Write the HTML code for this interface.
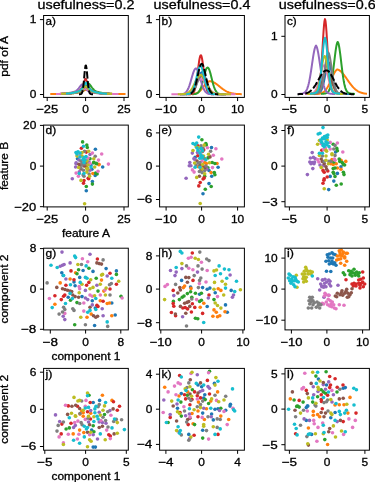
<!DOCTYPE html>
<html><head><meta charset="utf-8"><style>
html,body{margin:0;padding:0;background:#fff;}
svg{display:block;will-change:transform;}
text{font-family:"Liberation Sans",sans-serif;fill:#000;stroke:#000;stroke-width:0.3px;}
</style></head><body>
<svg width="375" height="482" viewBox="0 0 375 482">
<rect width="375" height="482" fill="#fff"/>
<clipPath id="cpa"><rect x="43.60" y="15.50" width="84.70" height="81.90"/></clipPath>
<g clip-path="url(#cpa)">
<polyline points="55.00,94.06 55.49,94.05 55.98,94.04 56.48,94.03 56.97,94.02 57.46,94.01 57.95,94.00 58.44,93.98 58.93,93.97 59.43,93.95 59.92,93.94 60.41,93.92 60.90,93.91 61.39,93.89 61.89,93.87 62.38,93.85 62.87,93.82 63.36,93.80 63.85,93.77 64.34,93.75 64.84,93.72 65.33,93.69 65.82,93.66 66.31,93.62 66.80,93.58 67.30,93.54 67.79,93.50 68.28,93.46 68.77,93.41 69.26,93.36 69.75,93.31 70.25,93.25 70.74,93.19 71.23,93.13 71.72,93.06 72.21,92.99 72.70,92.91 73.20,92.83 73.69,92.74 74.18,92.65 74.67,92.55 75.16,92.45 75.66,92.33 76.15,92.21 76.64,92.08 77.13,91.94 77.62,91.79 78.11,91.61 78.61,91.42 79.10,91.19 79.59,90.93 80.08,90.63 80.57,90.27 81.07,89.86 81.56,89.40 82.05,88.88 82.54,88.32 83.03,87.73 83.52,87.14 84.02,86.56 84.51,86.02 85.00,85.54 85.49,85.27 85.98,85.71 86.48,86.21 86.97,86.77 87.46,87.36 87.95,87.95 88.44,88.53 88.93,89.08 89.43,89.58 89.92,90.02 90.41,90.41 90.90,90.75 91.39,91.03 91.89,91.28 92.38,91.49 92.87,91.68 93.36,91.85 93.85,92.00 94.34,92.13 94.84,92.26 95.33,92.38 95.82,92.49 96.31,92.59 96.80,92.69 97.30,92.78 97.79,92.86 98.28,92.94 98.77,93.02 99.26,93.09 99.75,93.15 100.25,93.22 100.74,93.27 101.23,93.33 101.72,93.38 102.21,93.43 102.70,93.48 103.20,93.52 103.69,93.56 104.18,93.60 104.67,93.63 105.16,93.67 105.66,93.70 106.15,93.73 106.64,93.76 107.13,93.78 107.62,93.81 108.11,93.83 108.61,93.85 109.10,93.87 109.59,93.89 110.08,93.91 110.57,93.93 111.07,93.95 111.56,93.96 112.05,93.97 112.54,93.99 113.03,94.00 113.52,94.01 114.02,94.02 114.51,94.03 115.00,94.04" fill="none" stroke="#1f77b4" stroke-width="2.0" stroke-linejoin="round"/>
<polyline points="50.30,94.07 50.79,94.07 51.29,94.06 51.78,94.05 52.28,94.05 52.77,94.04 53.27,94.03 53.76,94.02 54.26,94.02 54.75,94.01 55.25,94.00 55.74,93.99 56.24,93.98 56.73,93.97 57.23,93.96 57.72,93.95 58.22,93.94 58.71,93.92 59.21,93.91 59.70,93.90 60.19,93.88 60.69,93.87 61.18,93.85 61.68,93.84 62.17,93.82 62.67,93.80 63.16,93.79 63.66,93.77 64.15,93.75 64.65,93.73 65.14,93.71 65.64,93.68 66.13,93.66 66.63,93.63 67.12,93.61 67.62,93.58 68.11,93.55 68.61,93.52 69.10,93.49 69.59,93.46 70.09,93.42 70.58,93.39 71.08,93.35 71.57,93.31 72.07,93.27 72.56,93.23 73.06,93.18 73.55,93.14 74.05,93.09 74.54,93.03 75.04,92.98 75.53,92.92 76.03,92.86 76.52,92.79 77.02,92.71 77.51,92.63 78.01,92.55 78.50,92.45 78.99,92.34 79.49,92.22 79.98,92.09 80.48,91.94 80.97,91.78 81.47,91.61 81.96,91.42 82.46,91.22 82.95,91.01 83.45,90.80 83.94,90.59 84.44,90.37 84.93,90.17 85.43,89.97 85.92,89.79 86.42,89.63 86.91,89.73 87.41,89.91 87.90,90.10 88.39,90.30 88.89,90.51 89.38,90.73 89.88,90.94 90.37,91.15 90.87,91.35 91.36,91.54 91.86,91.72 92.35,91.89 92.85,92.04 93.34,92.18 93.84,92.30 94.33,92.41 94.83,92.51 95.32,92.60 95.82,92.69 96.31,92.76 96.81,92.83 97.30,92.90 97.79,92.96 98.29,93.01 98.78,93.07 99.28,93.12 99.77,93.17 100.27,93.21 100.76,93.26 101.26,93.30 101.75,93.34 102.25,93.38 102.74,93.41 103.24,93.45 103.73,93.48 104.23,93.51 104.72,93.54 105.22,93.57 105.71,93.60 106.21,93.62 106.70,93.65 107.19,93.67 107.69,93.70 108.18,93.72 108.68,93.74 109.17,93.76 109.67,93.78 110.16,93.80 110.66,93.82 111.15,93.83 111.65,93.85 112.14,93.86 112.64,93.88 113.13,93.89 113.63,93.91 114.12,93.92 114.62,93.93 115.11,93.94 115.61,93.96 116.10,93.97 116.59,93.98 117.09,93.99 117.58,94.00 118.08,94.00 118.57,94.01 119.07,94.02 119.56,94.03 120.06,94.04 120.55,94.04 121.05,94.05 121.54,94.06 122.04,94.06 122.53,94.07 123.03,94.08 123.52,94.08 124.02,94.09 124.51,94.09 125.01,94.10 125.50,94.10" fill="none" stroke="#ff7f0e" stroke-width="2.0" stroke-linejoin="round"/>
<polyline points="62.00,93.96 62.49,93.94 62.98,93.93 63.47,93.91 63.96,93.89 64.45,93.87 64.94,93.85 65.43,93.83 65.92,93.81 66.41,93.78 66.90,93.75 67.39,93.73 67.88,93.70 68.37,93.66 68.86,93.63 69.35,93.59 69.84,93.56 70.33,93.51 70.82,93.47 71.31,93.43 71.80,93.38 72.29,93.32 72.78,93.27 73.27,93.21 73.76,93.15 74.25,93.08 74.75,93.01 75.24,92.94 75.73,92.86 76.22,92.77 76.71,92.68 77.20,92.58 77.69,92.48 78.18,92.37 78.67,92.25 79.16,92.13 79.65,91.99 80.14,91.84 80.63,91.67 81.12,91.48 81.61,91.26 82.10,91.01 82.59,90.71 83.08,90.37 83.57,89.97 84.06,89.51 84.55,88.98 85.04,88.39 85.53,87.75 86.02,87.07 86.51,86.37 87.00,85.68 87.49,85.03 87.98,84.43 88.47,83.90 88.96,83.74 89.45,84.24 89.94,84.81 90.43,85.45 90.92,86.13 91.41,86.83 91.90,87.52 92.39,88.17 92.88,88.78 93.37,89.33 93.86,89.82 94.35,90.24 94.84,90.60 95.33,90.91 95.82,91.18 96.31,91.41 96.80,91.60 97.29,91.78 97.78,91.94 98.27,92.08 98.76,92.21 99.25,92.33 99.75,92.44 100.24,92.55 100.73,92.65 101.22,92.74 101.71,92.83 102.20,92.91 102.69,92.99 103.18,93.06 103.67,93.13 104.16,93.19 104.65,93.25 105.14,93.31 105.63,93.36 106.12,93.41 106.61,93.46 107.10,93.50 107.59,93.54 108.08,93.58 108.57,93.62 109.06,93.65 109.55,93.68 110.04,93.72 110.53,93.74 111.02,93.77 111.51,93.80 112.00,93.82" fill="none" stroke="#2ca02c" stroke-width="2.0" stroke-linejoin="round"/>
<polyline points="64.00,93.86 64.49,93.84 64.98,93.81 65.47,93.78 65.95,93.74 66.44,93.71 66.93,93.67 67.42,93.63 67.91,93.58 68.40,93.54 68.88,93.48 69.37,93.43 69.86,93.37 70.35,93.30 70.84,93.23 71.33,93.16 71.81,93.08 72.30,92.99 72.79,92.90 73.28,92.79 73.77,92.68 74.26,92.57 74.74,92.44 75.23,92.30 75.72,92.15 76.21,91.99 76.70,91.82 77.19,91.63 77.67,91.43 78.16,91.21 78.65,90.97 79.14,90.70 79.63,90.39 80.12,90.03 80.60,89.58 81.09,89.03 81.58,88.33 82.07,87.45 82.56,86.38 83.05,85.12 83.53,83.73 84.02,82.28 84.51,80.90 85.00,79.70 85.49,78.77 85.98,79.24 86.47,80.32 86.95,81.64 87.44,83.07 87.93,84.49 88.42,85.82 88.91,86.98 89.40,87.95 89.88,88.73 90.37,89.35 90.86,89.84 91.35,90.23 91.84,90.57 92.33,90.85 92.81,91.11 93.30,91.33 93.79,91.54 94.28,91.74 94.77,91.92 95.26,92.08 95.74,92.23 96.23,92.38 96.72,92.51 97.21,92.63 97.70,92.74 98.19,92.85 98.67,92.95 99.16,93.04 99.65,93.12 100.14,93.20 100.63,93.27 101.12,93.34 101.60,93.40 102.09,93.46 102.58,93.51 103.07,93.56 103.56,93.61 104.05,93.65 104.53,93.69 105.02,93.73 105.51,93.76 106.00,93.79" fill="none" stroke="#d62728" stroke-width="2.0" stroke-linejoin="round"/>
<polyline points="60.00,93.79 60.49,93.77 60.98,93.74 61.47,93.71 61.96,93.68 62.45,93.65 62.94,93.61 63.43,93.57 63.92,93.54 64.41,93.49 64.90,93.45 65.39,93.40 65.88,93.35 66.37,93.30 66.86,93.24 67.35,93.18 67.84,93.12 68.33,93.05 68.82,92.97 69.31,92.90 69.80,92.81 70.29,92.73 70.78,92.63 71.27,92.53 71.76,92.43 72.24,92.31 72.73,92.19 73.22,92.05 73.71,91.90 74.20,91.72 74.69,91.53 75.18,91.31 75.67,91.04 76.16,90.74 76.65,90.38 77.14,89.97 77.63,89.49 78.12,88.96 78.61,88.38 79.10,87.76 79.59,87.12 80.08,86.48 80.57,85.86 81.06,85.29 81.55,84.79 82.04,84.43 82.53,84.87 83.02,85.38 83.51,85.96 84.00,86.58 84.49,87.22 84.98,87.86 85.47,88.48 85.96,89.05 86.45,89.58 86.94,90.04 87.43,90.44 87.92,90.79 88.41,91.09 88.90,91.35 89.39,91.56 89.88,91.75 90.37,91.92 90.86,92.07 91.35,92.21 91.84,92.33 92.33,92.44 92.82,92.55 93.31,92.65 93.80,92.74 94.29,92.83 94.78,92.91 95.27,92.99 95.76,93.06 96.24,93.13 96.73,93.19 97.22,93.25 97.71,93.31 98.20,93.36 98.69,93.41 99.18,93.46 99.67,93.50 100.16,93.54 100.65,93.58 101.14,93.62 101.63,93.65 102.12,93.69 102.61,93.72 103.10,93.74 103.59,93.77 104.08,93.80 104.57,93.82 105.06,93.84 105.55,93.86 106.04,93.88 106.53,93.90 107.02,93.92 107.51,93.94 108.00,93.95" fill="none" stroke="#9467bd" stroke-width="2.0" stroke-linejoin="round"/>
<polyline points="58.00,93.97 58.49,93.96 58.98,93.94 59.47,93.93 59.96,93.91 60.45,93.90 60.95,93.88 61.44,93.86 61.93,93.84 62.42,93.82 62.91,93.80 63.40,93.78 63.89,93.76 64.38,93.73 64.87,93.70 65.36,93.68 65.85,93.65 66.35,93.62 66.84,93.58 67.33,93.55 67.82,93.51 68.31,93.47 68.80,93.43 69.29,93.39 69.78,93.35 70.27,93.30 70.76,93.25 71.25,93.19 71.75,93.14 72.24,93.08 72.73,93.01 73.22,92.95 73.71,92.88 74.20,92.80 74.69,92.72 75.18,92.64 75.67,92.55 76.16,92.45 76.65,92.34 77.15,92.22 77.64,92.09 78.13,91.94 78.62,91.77 79.11,91.57 79.60,91.35 80.09,91.10 80.58,90.82 81.07,90.50 81.56,90.15 82.05,89.77 82.55,89.38 83.04,88.97 83.53,88.57 84.02,88.19 84.51,87.82 85.00,87.49 85.49,87.20 85.98,87.48 86.47,87.81 86.96,88.17 87.45,88.56 87.95,88.96 88.44,89.36 88.93,89.76 89.42,90.13 89.91,90.48 90.40,90.80 90.89,91.09 91.38,91.34 91.87,91.57 92.36,91.76 92.85,91.93 93.35,92.08 93.84,92.22 94.33,92.33 94.82,92.44 95.31,92.54 95.80,92.63 96.29,92.72 96.78,92.80 97.27,92.87 97.76,92.95 98.25,93.01 98.75,93.08 99.24,93.13 99.73,93.19 100.22,93.25 100.71,93.30 101.20,93.34 101.69,93.39 102.18,93.43 102.67,93.47 103.16,93.51 103.65,93.55 104.15,93.58 104.64,93.62 105.13,93.65 105.62,93.68 106.11,93.70 106.60,93.73 107.09,93.76 107.58,93.78 108.07,93.80 108.56,93.82 109.05,93.84 109.55,93.86 110.04,93.88 110.53,93.90 111.02,93.91 111.51,93.93 112.00,93.94" fill="none" stroke="#8c564b" stroke-width="2.0" stroke-linejoin="round"/>
<polyline points="56.00,93.97 56.49,93.96 56.98,93.95 57.48,93.94 57.97,93.92 58.46,93.91 58.95,93.89 59.44,93.88 59.94,93.86 60.43,93.85 60.92,93.83 61.41,93.81 61.91,93.79 62.40,93.77 62.89,93.75 63.38,93.72 63.87,93.70 64.37,93.67 64.86,93.65 65.35,93.62 65.84,93.59 66.33,93.56 66.83,93.53 67.32,93.49 67.81,93.46 68.30,93.42 68.80,93.38 69.29,93.34 69.78,93.30 70.27,93.25 70.76,93.20 71.26,93.15 71.75,93.10 72.24,93.04 72.73,92.98 73.22,92.92 73.72,92.86 74.21,92.79 74.70,92.71 75.19,92.63 75.69,92.54 76.18,92.45 76.67,92.34 77.16,92.23 77.65,92.10 78.15,91.96 78.64,91.80 79.13,91.62 79.62,91.43 80.11,91.22 80.61,90.99 81.10,90.74 81.59,90.48 82.08,90.21 82.57,89.93 83.07,89.65 83.56,89.37 84.05,89.11 84.54,88.85 85.04,88.61 85.53,88.41 86.02,88.64 86.51,88.88 87.00,89.14 87.50,89.40 87.99,89.68 88.48,89.96 88.97,90.24 89.46,90.51 89.96,90.77 90.45,91.01 90.94,91.24 91.43,91.45 91.93,91.64 92.42,91.82 92.91,91.97 93.40,92.11 93.89,92.24 94.39,92.35 94.88,92.46 95.37,92.55 95.86,92.64 96.35,92.72 96.85,92.79 97.34,92.86 97.83,92.93 98.32,92.99 98.81,93.05 99.31,93.11 99.80,93.16 100.29,93.21 100.78,93.26 101.28,93.30 101.77,93.34 102.26,93.39 102.75,93.43 103.24,93.46 103.74,93.50 104.23,93.53 104.72,93.56 105.21,93.59 105.70,93.62 106.20,93.65 106.69,93.68 107.18,93.70 107.67,93.73 108.17,93.75 108.66,93.77 109.15,93.79 109.64,93.81 110.13,93.83 110.63,93.85 111.12,93.86 111.61,93.88 112.10,93.90 112.59,93.91 113.09,93.92 113.58,93.94 114.07,93.95 114.56,93.96 115.06,93.97 115.55,93.98 116.04,93.99 116.53,94.00 117.02,94.01 117.52,94.02 118.01,94.03 118.50,94.04" fill="none" stroke="#e377c2" stroke-width="2.0" stroke-linejoin="round"/>
<polyline points="62.00,93.81 62.49,93.79 62.98,93.77 63.47,93.75 63.96,93.72 64.45,93.69 64.94,93.67 65.43,93.64 65.92,93.60 66.41,93.57 66.90,93.54 67.39,93.50 67.88,93.46 68.37,93.42 68.86,93.37 69.35,93.33 69.84,93.28 70.33,93.23 70.82,93.17 71.31,93.12 71.80,93.05 72.29,92.99 72.78,92.92 73.27,92.85 73.76,92.78 74.24,92.69 74.73,92.61 75.22,92.52 75.71,92.42 76.20,92.31 76.69,92.20 77.18,92.07 77.67,91.92 78.16,91.76 78.65,91.58 79.14,91.37 79.63,91.13 80.12,90.86 80.61,90.55 81.10,90.21 81.59,89.84 82.08,89.43 82.57,89.01 83.06,88.58 83.55,88.15 84.04,87.74 84.53,87.35 85.02,87.00 85.51,86.71 86.00,87.01 86.49,87.37 86.98,87.75 87.47,88.17 87.96,88.60 88.45,89.03 88.94,89.45 89.43,89.85 89.92,90.23 90.41,90.57 90.90,90.87 91.39,91.14 91.88,91.38 92.37,91.59 92.86,91.77 93.35,91.93 93.84,92.07 94.33,92.20 94.82,92.32 95.31,92.42 95.80,92.52 96.29,92.61 96.78,92.70 97.27,92.78 97.76,92.85 98.24,92.93 98.73,92.99 99.22,93.06 99.71,93.12 100.20,93.18 100.69,93.23 101.18,93.28 101.67,93.33 102.16,93.38 102.65,93.42 103.14,93.46 103.63,93.50 104.12,93.54 104.61,93.57 105.10,93.61 105.59,93.64 106.08,93.67 106.57,93.69 107.06,93.72 107.55,93.75 108.04,93.77 108.53,93.79 109.02,93.82 109.51,93.84 110.00,93.85" fill="none" stroke="#7f7f7f" stroke-width="2.0" stroke-linejoin="round"/>
<polyline points="61.00,93.83 61.49,93.81 61.98,93.78 62.47,93.76 62.96,93.74 63.45,93.71 63.94,93.68 64.43,93.65 64.92,93.62 65.41,93.59 65.90,93.56 66.39,93.52 66.88,93.48 67.38,93.44 67.87,93.40 68.36,93.36 68.85,93.31 69.34,93.26 69.83,93.21 70.32,93.15 70.81,93.09 71.30,93.03 71.79,92.97 72.28,92.90 72.77,92.82 73.26,92.75 73.75,92.66 74.24,92.58 74.73,92.48 75.22,92.39 75.71,92.28 76.20,92.16 76.69,92.04 77.18,91.90 77.67,91.74 78.16,91.56 78.65,91.36 79.14,91.13 79.63,90.87 80.12,90.57 80.62,90.24 81.11,89.86 81.60,89.46 82.09,89.02 82.58,88.57 83.07,88.10 83.56,87.65 84.05,87.21 84.54,86.81 85.03,86.44 85.52,86.28 86.01,86.62 86.50,87.00 86.99,87.42 87.48,87.87 87.97,88.33 88.46,88.79 88.95,89.24 89.44,89.66 89.93,90.05 90.42,90.40 90.91,90.72 91.40,91.00 91.89,91.25 92.38,91.46 92.88,91.65 93.37,91.82 93.86,91.97 94.35,92.10 94.84,92.22 95.33,92.33 95.82,92.43 96.31,92.53 96.80,92.62 97.29,92.70 97.78,92.78 98.27,92.86 98.76,92.93 99.25,93.00 99.74,93.06 100.23,93.12 100.72,93.18 101.21,93.23 101.70,93.28 102.19,93.33 102.68,93.38 103.17,93.42 103.66,93.46 104.15,93.50 104.64,93.54 105.13,93.57 105.62,93.61 106.12,93.64 106.61,93.67 107.10,93.70 107.59,93.72 108.08,93.75 108.57,93.77 109.06,93.80 109.55,93.82 110.04,93.84 110.53,93.86 111.02,93.87 111.51,93.89 112.00,93.91" fill="none" stroke="#bcbd22" stroke-width="2.0" stroke-linejoin="round"/>
<polyline points="66.00,93.65 66.49,93.62 66.98,93.58 67.46,93.53 67.95,93.49 68.44,93.44 68.93,93.39 69.42,93.34 69.90,93.28 70.39,93.22 70.88,93.15 71.37,93.08 71.86,93.00 72.35,92.92 72.83,92.84 73.32,92.75 73.81,92.65 74.30,92.55 74.79,92.43 75.27,92.31 75.76,92.19 76.25,92.05 76.74,91.91 77.23,91.75 77.71,91.58 78.20,91.39 78.69,91.18 79.18,90.94 79.67,90.66 80.15,90.33 80.64,89.93 81.13,89.46 81.62,88.90 82.11,88.25 82.60,87.50 83.08,86.68 83.57,85.82 84.06,84.94 84.55,84.11 85.04,83.35 85.52,82.70 86.01,82.63 86.50,83.26 86.99,84.00 87.48,84.83 87.96,85.70 88.45,86.57 88.94,87.40 89.43,88.15 89.92,88.82 90.40,89.39 90.89,89.88 91.38,90.28 91.87,90.62 92.36,90.90 92.85,91.15 93.33,91.36 93.82,91.55 94.31,91.73 94.80,91.89 95.29,92.03 95.77,92.17 96.26,92.30 96.75,92.42 97.24,92.53 97.73,92.64 98.21,92.73 98.70,92.83 99.19,92.91 99.68,92.99 100.17,93.07 100.65,93.14 101.14,93.21 101.63,93.27 102.12,93.33 102.61,93.38 103.10,93.44 103.58,93.48 104.07,93.53 104.56,93.57 105.05,93.61 105.54,93.65 106.02,93.68 106.51,93.72 107.00,93.75" fill="none" stroke="#17becf" stroke-width="2.0" stroke-linejoin="round"/>
<polyline points="79.00,94.20 79.47,94.19 79.93,94.18 80.40,94.13 80.87,94.02 81.33,93.75 81.80,93.17 82.27,92.05 82.73,90.12 83.20,87.12 83.67,82.99 84.13,77.99 84.60,72.78 85.07,68.36 85.53,65.72 86.00,65.54 86.47,67.85 86.93,72.08 87.40,77.24 87.87,82.32 88.33,86.60 88.80,89.76 89.27,91.83 89.73,93.05 90.20,93.69 90.67,93.99 91.13,94.12 91.60,94.17 92.07,94.19 92.53,94.20 93.00,94.20" fill="none" stroke="#000" stroke-width="2.0" stroke-linejoin="round" stroke-dasharray="7.2,2.4" stroke-dashoffset="0.96"/>
</g>
<clipPath id="cpb"><rect x="159.60" y="15.50" width="84.80" height="81.90"/></clipPath>
<g clip-path="url(#cpb)">
<polyline points="180.00,94.20 180.49,94.20 180.98,94.20 181.47,94.20 181.96,94.20 182.45,94.20 182.94,94.20 183.43,94.20 183.91,94.19 184.40,94.19 184.89,94.18 185.38,94.18 185.87,94.16 186.36,94.15 186.85,94.12 187.34,94.09 187.83,94.05 188.32,93.98 188.81,93.90 189.30,93.79 189.79,93.65 190.28,93.46 190.77,93.22 191.26,92.93 191.74,92.56 192.23,92.11 192.72,91.57 193.21,90.93 193.70,90.18 194.19,89.32 194.68,88.34 195.17,87.25 195.66,86.05 196.15,84.75 196.64,83.38 197.13,81.96 197.62,80.51 198.11,79.07 198.60,77.67 199.09,76.36 199.57,75.17 200.06,74.14 200.55,73.31 201.04,72.69 201.53,72.32 202.02,72.20 202.51,72.34 203.00,72.74 203.49,73.37 203.98,74.23 204.47,75.27 204.96,76.47 205.45,77.79 205.94,79.19 206.43,80.64 206.91,82.08 207.40,83.50 207.89,84.87 208.38,86.15 208.87,87.35 209.36,88.43 209.85,89.40 210.34,90.25 210.83,90.99 211.32,91.62 211.81,92.15 212.30,92.60 212.79,92.96 213.28,93.25 213.77,93.48 214.26,93.66 214.74,93.80 215.23,93.91 215.72,93.99 216.21,94.05 216.70,94.09 217.19,94.13 217.68,94.15 218.17,94.17 218.66,94.18 219.15,94.18 219.64,94.19 220.13,94.19 220.62,94.20 221.11,94.20 221.60,94.20 222.09,94.20 222.57,94.20 223.06,94.20 223.55,94.20 224.04,94.20 224.53,94.20 225.02,94.20 225.51,94.20 226.00,94.20" fill="none" stroke="#1f77b4" stroke-width="2.0" stroke-linejoin="round"/>
<polyline points="186.00,94.20 186.49,94.19 186.99,94.19 187.48,94.19 187.98,94.18 188.47,94.18 188.96,94.17 189.46,94.16 189.95,94.15 190.44,94.13 190.94,94.11 191.43,94.08 191.93,94.05 192.42,94.01 192.91,93.95 193.41,93.89 193.90,93.81 194.39,93.72 194.89,93.61 195.38,93.48 195.88,93.33 196.37,93.15 196.86,92.94 197.36,92.70 197.85,92.42 198.35,92.11 198.84,91.77 199.33,91.38 199.83,90.96 200.32,90.50 200.81,90.00 201.31,89.46 201.80,88.89 202.30,88.30 202.79,87.68 203.28,87.05 203.78,86.41 204.27,85.76 204.76,85.13 205.26,84.51 205.75,83.93 206.25,83.38 206.74,82.87 207.23,82.43 207.73,82.05 208.22,81.74 208.72,81.51 209.21,81.36 209.70,81.30 210.20,81.31 210.69,81.36 211.18,81.43 211.68,81.54 212.17,81.69 212.67,81.86 213.16,82.07 213.65,82.30 214.15,82.56 214.64,82.84 215.13,83.15 215.63,83.47 216.12,83.81 216.62,84.17 217.11,84.55 217.60,84.93 218.10,85.32 218.59,85.72 219.08,86.12 219.58,86.52 220.07,86.92 220.57,87.32 221.06,87.72 221.55,88.10 222.05,88.48 222.54,88.85 223.04,89.21 223.53,89.56 224.02,89.90 224.52,90.22 225.01,90.52 225.50,90.82 226.00,91.09 226.49,91.35 226.99,91.60 227.48,91.83 227.97,92.05 228.47,92.25 228.96,92.44 229.45,92.61 229.95,92.77 230.44,92.92 230.94,93.06 231.43,93.18 231.92,93.29 232.42,93.40 232.91,93.49 233.41,93.57 233.90,93.65 234.39,93.72 234.89,93.78 235.38,93.83 235.87,93.88 236.37,93.92 236.86,93.96 237.36,93.99 237.85,94.02 238.34,94.04 238.84,94.07 239.33,94.09 239.82,94.10 240.32,94.12 240.81,94.13 241.31,94.14 241.80,94.15" fill="none" stroke="#ff7f0e" stroke-width="2.0" stroke-linejoin="round"/>
<polyline points="192.00,94.19 192.48,94.18 192.97,94.17 193.45,94.15 193.94,94.12 194.42,94.08 194.91,94.03 195.39,93.95 195.88,93.84 196.36,93.68 196.85,93.48 197.33,93.21 197.82,92.86 198.30,92.41 198.79,91.84 199.27,91.14 199.76,90.29 200.24,89.28 200.73,88.10 201.21,86.74 201.70,85.21 202.18,83.53 202.67,81.72 203.15,79.81 203.64,77.86 204.12,75.91 204.61,74.02 205.09,72.27 205.58,70.71 206.06,69.41 206.55,68.41 207.03,67.77 207.52,67.51 208.00,67.63 208.48,68.15 208.97,69.02 209.45,70.22 209.94,71.70 210.42,73.39 210.91,75.24 211.39,77.17 211.88,79.13 212.36,81.06 212.85,82.91 213.33,84.64 213.82,86.22 214.30,87.64 214.79,88.89 215.27,89.96 215.76,90.86 216.24,91.61 216.73,92.22 217.21,92.71 217.70,93.10 218.18,93.39 218.67,93.62 219.15,93.79 219.64,93.91 220.12,94.00 220.61,94.06 221.09,94.11 221.58,94.14 222.06,94.16 222.55,94.18 223.03,94.18 223.52,94.19 224.00,94.19" fill="none" stroke="#2ca02c" stroke-width="2.0" stroke-linejoin="round"/>
<polyline points="188.00,94.20 188.48,94.20 188.96,94.19 189.44,94.18 189.93,94.17 190.41,94.14 190.89,94.09 191.37,94.00 191.85,93.87 192.33,93.65 192.81,93.32 193.30,92.83 193.78,92.12 194.26,91.13 194.74,89.80 195.22,88.07 195.70,85.87 196.19,83.21 196.67,80.08 197.15,76.55 197.63,72.74 198.11,68.83 198.59,65.01 199.07,61.53 199.56,58.63 200.04,56.53 200.52,55.38 201.00,55.29 201.48,56.26 201.96,58.21 202.44,60.99 202.93,64.39 203.41,68.17 203.89,72.08 204.37,75.92 204.85,79.51 205.33,82.71 205.81,85.46 206.30,87.73 206.78,89.54 207.26,90.94 207.74,91.98 208.22,92.73 208.70,93.25 209.19,93.60 209.67,93.84 210.15,93.98 210.63,94.08 211.11,94.13 211.59,94.16 212.07,94.18 212.56,94.19 213.04,94.19 213.52,94.20 214.00,94.20" fill="none" stroke="#d62728" stroke-width="2.0" stroke-linejoin="round"/>
<polyline points="180.00,94.16 180.49,94.14 180.97,94.12 181.46,94.08 181.94,94.03 182.43,93.96 182.91,93.87 183.40,93.75 183.89,93.58 184.37,93.37 184.86,93.10 185.34,92.76 185.83,92.33 186.31,91.80 186.80,91.17 187.29,90.42 187.77,89.54 188.26,88.51 188.74,87.35 189.23,86.06 189.71,84.63 190.20,83.10 190.69,81.47 191.17,79.77 191.66,78.06 192.14,76.35 192.63,74.71 193.11,73.17 193.60,71.78 194.09,70.59 194.57,69.65 195.06,68.97 195.54,68.58 196.03,68.51 196.51,68.75 197.00,69.29 197.49,70.12 197.97,71.20 198.46,72.49 198.94,73.97 199.43,75.57 199.91,77.25 200.40,78.97 200.89,80.68 201.37,82.34 201.86,83.92 202.34,85.40 202.83,86.76 203.31,87.99 203.80,89.07 204.29,90.02 204.77,90.83 205.26,91.52 205.74,92.09 206.23,92.57 206.71,92.95 207.20,93.25 207.69,93.49 208.17,93.67 208.66,93.82 209.14,93.92 209.63,94.00 210.11,94.06 210.60,94.10 211.09,94.13 211.57,94.15 212.06,94.17 212.54,94.18 213.03,94.19 213.51,94.19 214.00,94.19" fill="none" stroke="#9467bd" stroke-width="2.0" stroke-linejoin="round"/>
<polyline points="180.00,94.20 180.49,94.20 180.98,94.19 181.47,94.19 181.96,94.19 182.45,94.18 182.94,94.17 183.43,94.16 183.91,94.15 184.40,94.13 184.89,94.10 185.38,94.06 185.87,94.01 186.36,93.95 186.85,93.87 187.34,93.77 187.83,93.64 188.32,93.48 188.81,93.28 189.30,93.04 189.79,92.74 190.28,92.40 190.77,91.98 191.26,91.51 191.74,90.95 192.23,90.33 192.72,89.63 193.21,88.85 193.70,88.00 194.19,87.08 194.68,86.10 195.17,85.08 195.66,84.02 196.15,82.96 196.64,81.90 197.13,80.86 197.62,79.88 198.11,78.98 198.60,78.17 199.09,77.47 199.57,76.92 200.06,76.51 200.55,76.27 201.04,76.20 201.53,76.30 202.02,76.57 202.51,77.00 203.00,77.58 203.49,78.30 203.98,79.13 204.47,80.05 204.96,81.04 205.45,82.08 205.94,83.14 206.43,84.21 206.91,85.26 207.40,86.27 207.89,87.24 208.38,88.15 208.87,88.99 209.36,89.75 209.85,90.44 210.34,91.06 210.83,91.59 211.32,92.06 211.81,92.46 212.30,92.80 212.79,93.08 213.28,93.32 213.77,93.51 214.26,93.66 214.74,93.79 215.23,93.89 215.72,93.96 216.21,94.02 216.70,94.07 217.19,94.10 217.68,94.13 218.17,94.15 218.66,94.16 219.15,94.18 219.64,94.18 220.13,94.19 220.62,94.19 221.11,94.19 221.60,94.20 222.09,94.20 222.57,94.20 223.06,94.20 223.55,94.20 224.04,94.20 224.53,94.20 225.02,94.20 225.51,94.20 226.00,94.20" fill="none" stroke="#8c564b" stroke-width="2.0" stroke-linejoin="round"/>
<polyline points="171.40,94.20 171.89,94.20 172.38,94.20 172.88,94.20 173.37,94.20 173.86,94.20 174.35,94.20 174.85,94.20 175.34,94.20 175.83,94.20 176.32,94.20 176.82,94.20 177.31,94.19 177.80,94.19 178.29,94.19 178.78,94.18 179.28,94.18 179.77,94.17 180.26,94.16 180.75,94.15 181.25,94.13 181.74,94.11 182.23,94.09 182.72,94.06 183.22,94.01 183.71,93.96 184.20,93.90 184.69,93.83 185.18,93.74 185.68,93.62 186.17,93.49 186.66,93.34 187.15,93.15 187.65,92.94 188.14,92.69 188.63,92.41 189.12,92.09 189.62,91.72 190.11,91.31 190.60,90.86 191.09,90.36 191.58,89.82 192.08,89.24 192.57,88.61 193.06,87.95 193.55,87.26 194.05,86.54 194.54,85.80 195.03,85.06 195.52,84.31 196.02,83.58 196.51,82.87 197.00,82.19 197.49,81.56 197.98,80.98 198.48,80.47 198.97,80.04 199.46,79.69 199.95,79.43 200.45,79.26 200.94,79.20 201.43,79.24 201.92,79.38 202.42,79.61 202.91,79.94 203.40,80.35 203.89,80.85 204.38,81.41 204.88,82.03 205.37,82.69 205.86,83.40 206.35,84.13 206.85,84.87 207.34,85.61 207.83,86.35 208.32,87.08 208.82,87.78 209.31,88.45 209.80,89.08 210.29,89.68 210.78,90.23 211.28,90.74 211.77,91.20 212.26,91.62 212.75,92.00 213.25,92.33 213.74,92.62 214.23,92.88 214.72,93.10 215.22,93.29 215.71,93.46 216.20,93.59 216.69,93.71 217.18,93.81 217.68,93.88 218.17,93.95 218.66,94.00 219.15,94.05 219.65,94.08 220.14,94.11 220.63,94.13 221.12,94.15 221.62,94.16 222.11,94.17 222.60,94.18 223.09,94.18 223.58,94.19 224.08,94.19 224.57,94.19 225.06,94.20 225.55,94.20 226.05,94.20 226.54,94.20 227.03,94.20 227.52,94.20 228.02,94.20 228.51,94.20 229.00,94.20 229.49,94.20 229.98,94.20 230.48,94.20 230.97,94.20 231.46,94.20 231.95,94.20 232.45,94.20 232.94,94.20 233.43,94.20 233.92,94.20 234.42,94.20 234.91,94.20 235.40,94.20" fill="none" stroke="#e377c2" stroke-width="2.0" stroke-linejoin="round"/>
<polyline points="182.00,94.20 182.49,94.20 182.98,94.20 183.47,94.20 183.96,94.19 184.44,94.19 184.93,94.18 185.42,94.18 185.91,94.17 186.40,94.15 186.89,94.13 187.38,94.10 187.87,94.06 188.36,94.00 188.84,93.92 189.33,93.82 189.82,93.69 190.31,93.51 190.80,93.30 191.29,93.02 191.78,92.68 192.27,92.27 192.76,91.78 193.24,91.19 193.73,90.50 194.22,89.71 194.71,88.81 195.20,87.81 195.69,86.72 196.18,85.54 196.67,84.29 197.16,83.00 197.64,81.68 198.13,80.37 198.62,79.11 199.11,77.92 199.60,76.85 200.09,75.92 200.58,75.17 201.07,74.63 201.56,74.30 202.04,74.20 202.53,74.34 203.02,74.71 203.51,75.30 204.00,76.08 204.49,77.04 204.98,78.13 205.47,79.34 205.96,80.61 206.44,81.92 206.93,83.23 207.42,84.52 207.91,85.76 208.40,86.93 208.89,88.00 209.38,88.98 209.87,89.86 210.36,90.63 210.84,91.30 211.33,91.87 211.82,92.35 212.31,92.75 212.80,93.08 213.29,93.34 213.78,93.55 214.27,93.71 214.76,93.84 215.24,93.94 215.73,94.01 216.22,94.06 216.71,94.10 217.20,94.13 217.69,94.15 218.18,94.17 218.67,94.18 219.16,94.19 219.64,94.19 220.13,94.19 220.62,94.20 221.11,94.20 221.60,94.20 222.09,94.20 222.58,94.20 223.07,94.20 223.56,94.20 224.04,94.20 224.53,94.20 225.02,94.20 225.51,94.20 226.00,94.20" fill="none" stroke="#7f7f7f" stroke-width="2.0" stroke-linejoin="round"/>
<polyline points="177.80,94.20 178.29,94.19 178.79,94.19 179.28,94.19 179.77,94.18 180.26,94.18 180.76,94.17 181.25,94.16 181.74,94.14 182.23,94.12 182.73,94.10 183.22,94.06 183.71,94.02 184.20,93.96 184.70,93.89 185.19,93.80 185.68,93.69 186.17,93.55 186.67,93.39 187.16,93.19 187.65,92.95 188.14,92.66 188.64,92.32 189.13,91.93 189.62,91.48 190.11,90.97 190.61,90.39 191.10,89.74 191.59,89.03 192.09,88.24 192.58,87.40 193.07,86.49 193.56,85.53 194.06,84.54 194.55,83.51 195.04,82.47 195.53,81.43 196.03,80.41 196.52,79.43 197.01,78.50 197.50,77.65 198.00,76.89 198.49,76.24 198.98,75.72 199.47,75.33 199.97,75.09 200.46,75.00 200.95,75.06 201.44,75.28 201.94,75.64 202.43,76.15 202.92,76.77 203.41,77.52 203.91,78.35 204.40,79.27 204.89,80.24 205.39,81.26 205.88,82.30 206.37,83.34 206.86,84.37 207.36,85.37 207.85,86.33 208.34,87.25 208.83,88.11 209.33,88.90 209.82,89.63 210.31,90.29 210.80,90.88 211.30,91.40 211.79,91.86 212.28,92.26 212.77,92.61 213.27,92.90 213.76,93.15 214.25,93.36 214.74,93.53 215.24,93.67 215.73,93.78 216.22,93.88 216.71,93.95 217.21,94.01 217.70,94.06 218.19,94.09 218.69,94.12 219.18,94.14 219.67,94.16 220.16,94.17 220.66,94.18 221.15,94.18 221.64,94.19 222.13,94.19 222.63,94.19 223.12,94.20 223.61,94.20 224.10,94.20 224.60,94.20 225.09,94.20 225.58,94.20 226.07,94.20 226.57,94.20 227.06,94.20 227.55,94.20 228.04,94.20 228.54,94.20 229.03,94.20 229.52,94.20 230.01,94.20 230.51,94.20 231.00,94.20" fill="none" stroke="#bcbd22" stroke-width="2.0" stroke-linejoin="round"/>
<polyline points="186.30,94.17 186.79,94.15 187.27,94.13 187.76,94.09 188.25,94.03 188.73,93.95 189.22,93.83 189.71,93.66 190.20,93.43 190.68,93.13 191.17,92.72 191.66,92.20 192.14,91.54 192.63,90.71 193.12,89.71 193.60,88.50 194.09,87.10 194.58,85.48 195.06,83.68 195.55,81.71 196.04,79.61 196.52,77.44 197.01,75.25 197.50,73.13 197.99,71.16 198.47,69.41 198.96,67.96 199.45,66.88 199.93,66.21 200.42,66.00 200.91,66.25 201.39,66.95 201.88,68.06 202.37,69.54 202.85,71.31 203.34,73.30 203.83,75.43 204.31,77.61 204.80,79.78 205.29,81.87 205.78,83.83 206.26,85.62 206.75,87.22 207.24,88.61 207.72,89.80 208.21,90.79 208.70,91.60 209.18,92.25 209.67,92.76 210.16,93.16 210.64,93.46 211.13,93.68 211.62,93.84 212.10,93.95 212.59,94.04 213.08,94.09 213.57,94.13 214.05,94.16 214.54,94.17 215.03,94.18 215.51,94.19 216.00,94.19" fill="none" stroke="#17becf" stroke-width="2.0" stroke-linejoin="round"/>
<polyline points="188.50,94.07 188.99,94.01 189.48,93.91 189.97,93.79 190.45,93.62 190.94,93.38 191.43,93.07 191.92,92.67 192.41,92.15 192.90,91.50 193.39,90.70 193.87,89.72 194.36,88.55 194.85,87.18 195.34,85.61 195.83,83.85 196.32,81.91 196.80,79.82 197.29,77.63 197.78,75.38 198.27,73.15 198.76,71.00 199.25,69.01 199.74,67.25 200.22,65.80 200.71,64.71 201.20,64.04 201.69,63.80 202.18,64.02 202.67,64.68 203.16,65.75 203.64,67.19 204.13,68.93 204.62,70.92 205.11,73.06 205.60,75.29 206.09,77.54 206.58,79.74 207.06,81.83 207.55,83.78 208.04,85.55 208.53,87.12 209.02,88.50 209.51,89.67 210.00,90.66 210.48,91.47 210.97,92.13 211.46,92.65 211.95,93.06 212.44,93.37 212.93,93.61 213.41,93.78 213.90,93.91 214.39,94.00 214.88,94.07 215.37,94.11 215.86,94.14 216.35,94.16 216.83,94.18 217.32,94.19 217.81,94.19 218.30,94.19" fill="none" stroke="#000" stroke-width="2.0" stroke-linejoin="round" stroke-dasharray="7.2,2.4" stroke-dashoffset="7.33"/>
</g>
<clipPath id="cpc"><rect x="285.00" y="15.50" width="84.40" height="81.90"/></clipPath>
<g clip-path="url(#cpc)">
<polyline points="309.00,94.08 309.49,94.07 309.98,94.06 310.46,94.05 310.95,94.03 311.44,94.02 311.93,94.00 312.42,93.99 312.90,93.97 313.39,93.95 313.88,93.93 314.37,93.90 314.86,93.87 315.35,93.84 315.83,93.80 316.32,93.75 316.81,93.68 317.30,93.60 317.79,93.48 318.27,93.33 318.76,93.13 319.25,92.85 319.74,92.48 320.23,92.00 320.71,91.36 321.20,90.55 321.69,89.52 322.18,88.27 322.67,86.75 323.15,84.98 323.64,82.95 324.13,80.69 324.62,78.24 325.11,75.67 325.60,73.06 326.08,70.51 326.57,68.13 327.06,66.03 327.55,64.32 328.04,63.06 328.52,62.33 329.01,62.48 329.50,63.36 329.99,64.75 330.48,66.58 330.96,68.77 331.45,71.20 331.94,73.78 332.43,76.39 332.92,78.93 333.40,81.34 333.89,83.54 334.38,85.50 334.87,87.20 335.36,88.64 335.85,89.83 336.33,90.79 336.82,91.55 337.31,92.14 337.80,92.60 338.29,92.94 338.77,93.19 339.26,93.38 339.75,93.52 340.24,93.62 340.73,93.70 341.21,93.76 341.70,93.81 342.19,93.85 342.68,93.88 343.17,93.91 343.65,93.93 344.14,93.95 344.63,93.97 345.12,93.99 345.61,94.01 346.10,94.02 346.58,94.04 347.07,94.05 347.56,94.06 348.05,94.07 348.54,94.08 349.02,94.09 349.51,94.10 350.00,94.11" fill="none" stroke="#1f77b4" stroke-width="2.0" stroke-linejoin="round"/>
<polyline points="314.00,94.13 314.49,94.12 314.98,94.10 315.47,94.09 315.96,94.07 316.45,94.04 316.94,94.01 317.44,93.97 317.93,93.93 318.42,93.87 318.91,93.80 319.40,93.72 319.89,93.62 320.38,93.50 320.87,93.36 321.36,93.19 321.85,92.99 322.34,92.76 322.83,92.49 323.32,92.18 323.81,91.82 324.31,91.41 324.80,90.95 325.29,90.43 325.78,89.85 326.27,89.21 326.76,88.51 327.25,87.74 327.74,86.91 328.23,86.02 328.72,85.07 329.21,84.07 329.70,83.02 330.19,81.94 330.69,80.83 331.18,79.70 331.67,78.56 332.16,77.44 332.65,76.34 333.14,75.27 333.63,74.26 334.12,73.30 334.61,72.43 335.10,71.64 335.59,70.96 336.08,70.38 336.57,69.91 337.06,69.57 337.56,69.44 338.05,69.61 338.54,69.82 339.03,70.08 339.52,70.38 340.01,70.73 340.50,71.13 340.99,71.56 341.48,72.04 341.97,72.55 342.46,73.09 342.95,73.67 343.44,74.27 343.94,74.90 344.43,75.55 344.92,76.22 345.41,76.90 345.90,77.60 346.39,78.30 346.88,79.01 347.37,79.71 347.86,80.42 348.35,81.12 348.84,81.82 349.33,82.50 349.82,83.17 350.31,83.82 350.81,84.46 351.30,85.08 351.79,85.68 352.28,86.26 352.77,86.81 353.26,87.34 353.75,87.85 354.24,88.33 354.73,88.79 355.22,89.22 355.71,89.63 356.20,90.01 356.69,90.37 357.19,90.70 357.68,91.02 358.17,91.31 358.66,91.57 359.15,91.82 359.64,92.05 360.13,92.26 360.62,92.45 361.11,92.63 361.60,92.79 362.09,92.94 362.58,93.07 363.07,93.19 363.56,93.30 364.06,93.40 364.55,93.48 365.04,93.56 365.53,93.63 366.02,93.70 366.51,93.75 367.00,93.80" fill="none" stroke="#ff7f0e" stroke-width="2.0" stroke-linejoin="round"/>
<polyline points="321.00,93.88 321.49,93.85 321.97,93.82 322.46,93.78 322.94,93.74 323.43,93.70 323.91,93.65 324.40,93.58 324.89,93.51 325.37,93.41 325.86,93.28 326.34,93.12 326.83,92.89 327.31,92.60 327.80,92.20 328.29,91.67 328.77,90.97 329.26,90.07 329.74,88.91 330.23,87.45 330.71,85.66 331.20,83.49 331.69,80.92 332.17,77.96 332.66,74.61 333.14,70.93 333.63,66.98 334.11,62.89 334.60,58.77 335.09,54.77 335.57,51.07 336.06,47.81 336.54,45.14 337.03,43.18 337.51,42.02 338.00,42.22 338.49,43.58 338.97,45.71 339.46,48.53 339.94,51.91 340.43,55.69 340.91,59.73 341.40,63.86 341.89,67.93 342.37,71.82 342.86,75.43 343.34,78.69 343.83,81.56 344.31,84.03 344.80,86.11 345.29,87.82 345.77,89.21 346.26,90.30 346.74,91.15 347.23,91.81 347.71,92.30 348.20,92.67 348.69,92.95 349.17,93.16 349.66,93.32 350.14,93.43 350.63,93.53 351.11,93.60 351.60,93.66 352.09,93.71 352.57,93.75 353.06,93.79 353.54,93.82 354.03,93.85 354.51,93.88 355.00,93.91" fill="none" stroke="#2ca02c" stroke-width="2.0" stroke-linejoin="round"/>
<polyline points="311.00,93.47 311.48,93.41 311.97,93.34 312.45,93.27 312.93,93.19 313.41,93.11 313.90,93.02 314.38,92.91 314.86,92.80 315.34,92.66 315.83,92.50 316.31,92.29 316.79,92.00 317.28,91.59 317.76,90.99 318.24,90.10 318.72,88.78 319.21,86.89 319.69,84.22 320.17,80.62 320.66,75.92 321.14,70.07 321.62,63.13 322.10,55.32 322.59,47.02 323.07,38.79 323.55,31.28 324.03,25.13 324.52,20.95 325.00,19.10 325.48,20.95 325.97,25.13 326.45,31.28 326.93,38.79 327.41,47.02 327.90,55.32 328.38,63.13 328.86,70.07 329.34,75.92 329.83,80.62 330.31,84.22 330.79,86.89 331.28,88.78 331.76,90.10 332.24,90.99 332.72,91.59 333.21,92.00 333.69,92.29 334.17,92.50 334.66,92.66 335.14,92.80 335.62,92.91 336.10,93.02 336.59,93.11 337.07,93.19 337.55,93.27 338.03,93.34 338.52,93.41 339.00,93.47" fill="none" stroke="#d62728" stroke-width="2.0" stroke-linejoin="round"/>
<polyline points="298.00,93.96 298.49,93.93 298.97,93.91 299.46,93.88 299.95,93.84 300.43,93.80 300.92,93.76 301.41,93.69 301.89,93.62 302.38,93.52 302.87,93.39 303.36,93.23 303.84,93.02 304.33,92.74 304.82,92.38 305.30,91.92 305.79,91.33 306.28,90.60 306.76,89.68 307.25,88.56 307.74,87.21 308.22,85.61 308.71,83.73 309.20,81.56 309.68,79.12 310.17,76.41 310.66,73.46 311.14,70.31 311.63,67.03 312.12,63.69 312.61,60.37 313.09,57.18 313.58,54.20 314.07,51.54 314.55,49.28 315.04,47.50 315.53,46.26 316.01,45.61 316.50,46.31 316.99,47.58 317.47,49.39 317.96,51.67 318.45,54.35 318.93,57.34 319.42,60.55 319.91,63.87 320.39,67.21 320.88,70.49 321.37,73.62 321.86,76.56 322.34,79.26 322.83,81.69 323.32,83.83 323.80,85.70 324.29,87.29 324.78,88.63 325.26,89.74 325.75,90.64 326.24,91.37 326.72,91.95 327.21,92.40 327.70,92.76 328.18,93.03 328.67,93.24 329.16,93.40 329.64,93.53 330.13,93.62 330.62,93.70 331.11,93.76 331.59,93.81 332.08,93.85 332.57,93.88 333.05,93.91 333.54,93.93 334.03,93.96 334.51,93.98 335.00,93.99" fill="none" stroke="#9467bd" stroke-width="2.0" stroke-linejoin="round"/>
<polyline points="309.00,94.07 309.49,94.06 309.97,94.04 310.46,94.03 310.95,94.01 311.43,93.99 311.92,93.96 312.41,93.93 312.89,93.89 313.38,93.84 313.86,93.77 314.35,93.68 314.84,93.57 315.32,93.42 315.81,93.23 316.30,92.98 316.78,92.67 317.27,92.28 317.76,91.79 318.24,91.19 318.73,90.47 319.22,89.62 319.70,88.61 320.19,87.46 320.68,86.16 321.16,84.71 321.65,83.13 322.14,81.45 322.62,79.70 323.11,77.92 323.59,76.14 324.08,74.43 324.57,72.84 325.05,71.41 325.54,70.20 326.03,69.24 326.51,68.57 327.00,68.20 327.49,68.57 327.97,69.24 328.46,70.20 328.95,71.41 329.43,72.84 329.92,74.43 330.41,76.14 330.89,77.92 331.38,79.70 331.86,81.45 332.35,83.13 332.84,84.71 333.32,86.16 333.81,87.46 334.30,88.61 334.78,89.62 335.27,90.47 335.76,91.19 336.24,91.79 336.73,92.28 337.22,92.67 337.70,92.98 338.19,93.23 338.68,93.42 339.16,93.57 339.65,93.68 340.14,93.77 340.62,93.84 341.11,93.89 341.59,93.93 342.08,93.96 342.57,93.99 343.05,94.01 343.54,94.03 344.03,94.04 344.51,94.06 345.00,94.07" fill="none" stroke="#8c564b" stroke-width="2.0" stroke-linejoin="round"/>
<polyline points="305.00,94.08 305.49,94.07 305.97,94.05 306.46,94.04 306.95,94.03 307.44,94.01 307.92,93.99 308.41,93.97 308.90,93.94 309.38,93.90 309.87,93.86 310.36,93.80 310.85,93.72 311.33,93.63 311.82,93.50 312.31,93.34 312.79,93.12 313.28,92.85 313.77,92.51 314.26,92.07 314.74,91.53 315.23,90.87 315.72,90.06 316.21,89.11 316.69,87.99 317.18,86.71 317.67,85.26 318.15,83.64 318.64,81.89 319.13,80.01 319.62,78.05 320.10,76.06 320.59,74.08 321.08,72.17 321.56,70.38 322.05,68.79 322.54,67.43 323.03,66.36 323.51,65.61 324.00,65.20 324.49,65.61 324.97,66.36 325.46,67.43 325.95,68.79 326.44,70.38 326.92,72.17 327.41,74.08 327.90,76.06 328.38,78.05 328.87,80.01 329.36,81.89 329.85,83.64 330.33,85.26 330.82,86.71 331.31,87.99 331.79,89.11 332.28,90.06 332.77,90.87 333.26,91.53 333.74,92.07 334.23,92.51 334.72,92.85 335.21,93.12 335.69,93.34 336.18,93.50 336.67,93.63 337.15,93.72 337.64,93.80 338.13,93.86 338.62,93.90 339.10,93.94 339.59,93.97 340.08,93.99 340.56,94.01 341.05,94.03 341.54,94.04 342.03,94.05 342.51,94.07 343.00,94.08" fill="none" stroke="#e377c2" stroke-width="2.0" stroke-linejoin="round"/>
<polyline points="311.00,93.97 311.49,93.95 311.97,93.92 312.46,93.90 312.94,93.87 313.43,93.85 313.92,93.81 314.40,93.78 314.89,93.73 315.38,93.68 315.86,93.62 316.35,93.53 316.83,93.43 317.32,93.29 317.81,93.10 318.29,92.84 318.78,92.50 319.26,92.04 319.75,91.43 320.24,90.64 320.72,89.62 321.21,88.34 321.69,86.75 322.18,84.85 322.67,82.60 323.15,80.02 323.64,77.13 324.12,73.98 324.61,70.66 325.10,67.26 325.58,63.92 326.07,60.77 326.56,57.95 327.04,55.60 327.53,53.83 328.01,52.72 328.50,52.60 328.99,53.59 329.47,55.24 329.96,57.50 330.44,60.24 330.93,63.34 331.42,66.66 331.90,70.06 332.39,73.40 332.88,76.59 333.36,79.53 333.85,82.17 334.33,84.47 334.82,86.44 335.31,88.08 335.79,89.41 336.28,90.47 336.76,91.31 337.25,91.94 337.74,92.43 338.22,92.79 338.71,93.06 339.19,93.26 339.68,93.41 340.17,93.52 340.65,93.60 341.14,93.67 341.62,93.72 342.11,93.77 342.60,93.81 343.08,93.84 343.57,93.87 344.06,93.90 344.54,93.92 345.03,93.94 345.51,93.96 346.00,93.98" fill="none" stroke="#7f7f7f" stroke-width="2.0" stroke-linejoin="round"/>
<polyline points="307.00,94.00 307.49,93.98 307.97,93.96 308.46,93.94 308.95,93.92 309.43,93.90 309.92,93.87 310.41,93.84 310.89,93.80 311.38,93.76 311.86,93.71 312.35,93.65 312.84,93.57 313.32,93.47 313.81,93.33 314.30,93.15 314.78,92.90 315.27,92.57 315.76,92.12 316.24,91.53 316.73,90.76 317.22,89.78 317.70,88.55 318.19,87.04 318.68,85.23 319.16,83.10 319.65,80.67 320.14,77.96 320.62,75.03 321.11,71.95 321.59,68.83 322.08,65.78 322.57,62.94 323.05,60.43 323.54,58.37 324.03,56.86 324.51,55.97 325.00,56.12 325.49,57.16 325.97,58.80 326.46,60.98 326.95,63.58 327.43,66.48 327.92,69.56 328.41,72.68 328.89,75.73 329.38,78.61 329.86,81.26 330.35,83.63 330.84,85.68 331.32,87.42 331.81,88.86 332.30,90.03 332.78,90.96 333.27,91.68 333.76,92.24 334.24,92.65 334.73,92.97 335.22,93.20 335.70,93.37 336.19,93.50 336.68,93.59 337.16,93.67 337.65,93.73 338.14,93.77 338.62,93.81 339.11,93.85 339.59,93.88 340.08,93.90 340.57,93.93 341.05,93.95 341.54,93.97 342.03,93.99 342.51,94.00 343.00,94.02" fill="none" stroke="#bcbd22" stroke-width="2.0" stroke-linejoin="round"/>
<polyline points="310.00,93.74 310.48,93.70 310.97,93.65 311.45,93.61 311.94,93.56 312.42,93.50 312.90,93.44 313.39,93.37 313.87,93.30 314.35,93.20 314.84,93.09 315.32,92.94 315.81,92.74 316.29,92.46 316.77,92.07 317.26,91.51 317.74,90.71 318.23,89.60 318.71,88.08 319.19,86.06 319.68,83.44 320.16,80.16 320.65,76.19 321.13,71.57 321.61,66.42 322.10,60.92 322.58,55.34 323.06,50.01 323.55,45.27 324.03,41.47 324.52,38.89 325.00,37.70 325.48,38.89 325.97,41.47 326.45,45.27 326.94,50.01 327.42,55.34 327.90,60.92 328.39,66.42 328.87,71.57 329.35,76.19 329.84,80.16 330.32,83.44 330.81,86.06 331.29,88.08 331.77,89.60 332.26,90.71 332.74,91.51 333.23,92.07 333.71,92.46 334.19,92.74 334.68,92.94 335.16,93.09 335.65,93.20 336.13,93.30 336.61,93.37 337.10,93.44 337.58,93.50 338.06,93.56 338.55,93.61 339.03,93.65 339.52,93.70 340.00,93.74" fill="none" stroke="#17becf" stroke-width="2.0" stroke-linejoin="round"/>
<polyline points="297.50,94.17 297.99,94.16 298.48,94.15 298.97,94.14 299.47,94.12 299.96,94.10 300.45,94.08 300.94,94.06 301.43,94.02 301.92,93.99 302.41,93.94 302.90,93.89 303.40,93.83 303.89,93.76 304.38,93.68 304.87,93.58 305.36,93.47 305.85,93.35 306.34,93.20 306.83,93.04 307.33,92.85 307.82,92.64 308.31,92.41 308.80,92.14 309.29,91.85 309.78,91.52 310.27,91.16 310.77,90.76 311.26,90.33 311.75,89.85 312.24,89.34 312.73,88.79 313.22,88.20 313.71,87.57 314.20,86.89 314.70,86.19 315.19,85.44 315.68,84.67 316.17,83.86 316.66,83.03 317.15,82.17 317.64,81.30 318.13,80.42 318.63,79.54 319.12,78.65 319.61,77.78 320.10,76.92 320.59,76.08 321.08,75.28 321.57,74.51 322.07,73.79 322.56,73.12 323.05,72.52 323.54,71.98 324.03,71.51 324.52,71.12 325.01,70.81 325.50,70.58 326.00,70.45 326.49,70.40 326.98,70.45 327.47,70.61 327.96,70.88 328.45,71.26 328.94,71.73 329.43,72.30 329.93,72.95 330.42,73.67 330.91,74.47 331.40,75.32 331.89,76.22 332.38,77.15 332.87,78.12 333.37,79.09 333.86,80.08 334.35,81.06 334.84,82.03 335.33,82.98 335.82,83.91 336.31,84.80 336.80,85.65 337.30,86.47 337.79,87.23 338.28,87.96 338.77,88.63 339.26,89.25 339.75,89.83 340.24,90.35 340.73,90.83 341.23,91.26 341.72,91.65 342.21,92.00 342.70,92.31 343.19,92.58 343.68,92.82 344.17,93.03 344.67,93.21 345.16,93.37 345.65,93.51 346.14,93.62 346.63,93.72 347.12,93.81 347.61,93.88 348.10,93.94 348.60,93.99 349.09,94.03 349.58,94.06 350.07,94.09 350.56,94.11 351.05,94.13 351.54,94.14 352.03,94.16 352.53,94.17 353.02,94.17 353.51,94.18 354.00,94.18" fill="none" stroke="#000" stroke-width="2.0" stroke-linejoin="round" stroke-dasharray="7.2,2.4" stroke-dashoffset="1.74"/>
</g>
<clipPath id="cpd"><rect x="43.60" y="125.10" width="84.70" height="81.80"/></clipPath>
<g clip-path="url(#cpd)">
<circle cx="95.4" cy="149.2" r="1.8" fill="#1f77b4"/>
<circle cx="77.5" cy="158.7" r="1.8" fill="#1f77b4"/>
<circle cx="102.7" cy="167.0" r="1.8" fill="#1f77b4"/>
<circle cx="91.9" cy="169.3" r="1.8" fill="#1f77b4"/>
<circle cx="95.2" cy="175.4" r="1.8" fill="#1f77b4"/>
<circle cx="92.4" cy="181.5" r="1.8" fill="#1f77b4"/>
<circle cx="86.3" cy="190.8" r="1.8" fill="#1f77b4"/>
<circle cx="91.0" cy="165.0" r="1.8" fill="#1f77b4"/>
<circle cx="98.9" cy="164.3" r="1.8" fill="#ff7f0e"/>
<circle cx="98.9" cy="164.7" r="1.8" fill="#ff7f0e"/>
<circle cx="92.9" cy="173.5" r="1.8" fill="#ff7f0e"/>
<circle cx="82.6" cy="141.9" r="1.8" fill="#2ca02c"/>
<circle cx="86.8" cy="145.1" r="1.8" fill="#2ca02c"/>
<circle cx="87.3" cy="147.5" r="1.8" fill="#2ca02c"/>
<circle cx="90.0" cy="158.7" r="1.8" fill="#2ca02c"/>
<circle cx="93.8" cy="162.4" r="1.8" fill="#2ca02c"/>
<circle cx="96.1" cy="163.3" r="1.8" fill="#2ca02c"/>
<circle cx="93.8" cy="162.8" r="1.8" fill="#2ca02c"/>
<circle cx="96.6" cy="163.7" r="1.8" fill="#2ca02c"/>
<circle cx="95.7" cy="173.1" r="1.8" fill="#2ca02c"/>
<circle cx="97.1" cy="174.0" r="1.8" fill="#2ca02c"/>
<circle cx="92.4" cy="184.1" r="1.8" fill="#2ca02c"/>
<circle cx="86.3" cy="186.5" r="1.8" fill="#2ca02c"/>
<circle cx="81.4" cy="148.2" r="1.8" fill="#d62728"/>
<circle cx="86.3" cy="152.1" r="1.8" fill="#d62728"/>
<circle cx="88.2" cy="178.2" r="1.8" fill="#d62728"/>
<circle cx="88.7" cy="178.7" r="1.8" fill="#d62728"/>
<circle cx="84.0" cy="180.5" r="1.8" fill="#d62728"/>
<circle cx="83.5" cy="183.3" r="1.8" fill="#d62728"/>
<circle cx="86.0" cy="166.5" r="1.8" fill="#d62728"/>
<circle cx="80.0" cy="165.0" r="1.8" fill="#d62728"/>
<circle cx="89.0" cy="162.0" r="1.8" fill="#9467bd"/>
<circle cx="90.0" cy="154.5" r="1.8" fill="#9467bd"/>
<circle cx="76.1" cy="162.9" r="1.8" fill="#9467bd"/>
<circle cx="76.1" cy="163.7" r="1.8" fill="#9467bd"/>
<circle cx="75.6" cy="167.0" r="1.8" fill="#9467bd"/>
<circle cx="90.1" cy="170.3" r="1.8" fill="#9467bd"/>
<circle cx="79.3" cy="171.7" r="1.8" fill="#9467bd"/>
<circle cx="72.3" cy="178.7" r="1.8" fill="#9467bd"/>
<circle cx="88.0" cy="170.0" r="1.8" fill="#9467bd"/>
<circle cx="79.0" cy="160.0" r="1.8" fill="#9467bd"/>
<circle cx="86.0" cy="163.0" r="1.8" fill="#8c564b"/>
<circle cx="78.9" cy="164.2" r="1.8" fill="#8c564b"/>
<circle cx="84.0" cy="166.0" r="1.8" fill="#8c564b"/>
<circle cx="81.0" cy="169.0" r="1.8" fill="#8c564b"/>
<circle cx="87.0" cy="168.0" r="1.8" fill="#8c564b"/>
<circle cx="101.7" cy="154.0" r="1.8" fill="#e377c2"/>
<circle cx="92.4" cy="153.1" r="1.8" fill="#e377c2"/>
<circle cx="88.0" cy="158.0" r="1.8" fill="#e377c2"/>
<circle cx="80.1" cy="154.8" r="1.8" fill="#e377c2"/>
<circle cx="98.5" cy="160.1" r="1.8" fill="#e377c2"/>
<circle cx="86.8" cy="159.6" r="1.8" fill="#e377c2"/>
<circle cx="90.0" cy="163.5" r="1.8" fill="#e377c2"/>
<circle cx="76.1" cy="173.1" r="1.8" fill="#e377c2"/>
<circle cx="78.4" cy="176.3" r="1.8" fill="#e377c2"/>
<circle cx="98.0" cy="171.2" r="1.8" fill="#e377c2"/>
<circle cx="108.4" cy="164.1" r="1.8" fill="#e377c2"/>
<circle cx="84.5" cy="151.4" r="1.8" fill="#7f7f7f"/>
<circle cx="81.0" cy="161.0" r="1.8" fill="#7f7f7f"/>
<circle cx="95.2" cy="156.3" r="1.8" fill="#7f7f7f"/>
<circle cx="80.7" cy="167.9" r="1.8" fill="#7f7f7f"/>
<circle cx="85.0" cy="164.0" r="1.8" fill="#7f7f7f"/>
<circle cx="83.5" cy="170.3" r="1.8" fill="#7f7f7f"/>
<circle cx="83.1" cy="174.9" r="1.8" fill="#7f7f7f"/>
<circle cx="84.0" cy="176.3" r="1.8" fill="#7f7f7f"/>
<circle cx="89.1" cy="174.0" r="1.8" fill="#7f7f7f"/>
<circle cx="82.0" cy="165.0" r="1.8" fill="#7f7f7f"/>
<circle cx="82.0" cy="163.0" r="1.8" fill="#7f7f7f"/>
<circle cx="88.7" cy="151.2" r="1.8" fill="#bcbd22"/>
<circle cx="82.1" cy="152.6" r="1.8" fill="#bcbd22"/>
<circle cx="77.0" cy="155.9" r="1.8" fill="#bcbd22"/>
<circle cx="82.0" cy="156.0" r="1.8" fill="#bcbd22"/>
<circle cx="87.0" cy="161.0" r="1.8" fill="#bcbd22"/>
<circle cx="93.8" cy="158.7" r="1.8" fill="#bcbd22"/>
<circle cx="78.6" cy="167.5" r="1.8" fill="#bcbd22"/>
<circle cx="88.0" cy="165.0" r="1.8" fill="#bcbd22"/>
<circle cx="86.8" cy="168.4" r="1.8" fill="#bcbd22"/>
<circle cx="87.7" cy="168.9" r="1.8" fill="#bcbd22"/>
<circle cx="94.7" cy="167.0" r="1.8" fill="#bcbd22"/>
<circle cx="86.8" cy="172.1" r="1.8" fill="#bcbd22"/>
<circle cx="89.6" cy="176.3" r="1.8" fill="#bcbd22"/>
<circle cx="81.0" cy="180.4" r="1.8" fill="#bcbd22"/>
<circle cx="84.6" cy="203.7" r="1.8" fill="#bcbd22"/>
<circle cx="83.5" cy="146.3" r="1.8" fill="#17becf"/>
<circle cx="76.0" cy="152.5" r="1.8" fill="#17becf"/>
<circle cx="78.0" cy="151.8" r="1.8" fill="#17becf"/>
<circle cx="80.0" cy="153.0" r="1.8" fill="#17becf"/>
<circle cx="77.0" cy="154.0" r="1.8" fill="#17becf"/>
<circle cx="80.0" cy="157.0" r="1.8" fill="#17becf"/>
<circle cx="84.0" cy="157.5" r="1.8" fill="#17becf"/>
<circle cx="86.0" cy="156.5" r="1.8" fill="#17becf"/>
<circle cx="83.0" cy="159.5" r="1.8" fill="#17becf"/>
<circle cx="85.0" cy="160.0" r="1.8" fill="#17becf"/>
<circle cx="84.0" cy="162.5" r="1.8" fill="#17becf"/>
<circle cx="91.0" cy="167.0" r="1.8" fill="#17becf"/>
<circle cx="79.3" cy="173.5" r="1.8" fill="#17becf"/>
<circle cx="84.0" cy="173.5" r="1.8" fill="#17becf"/>
</g>
<clipPath id="cpe"><rect x="159.60" y="125.10" width="84.80" height="81.80"/></clipPath>
<g clip-path="url(#cpe)">
<circle cx="211.5" cy="147.6" r="1.8" fill="#1f77b4"/>
<circle cx="195.1" cy="157.4" r="1.8" fill="#1f77b4"/>
<circle cx="218.1" cy="167.3" r="1.8" fill="#1f77b4"/>
<circle cx="209.0" cy="170.5" r="1.8" fill="#1f77b4"/>
<circle cx="211.7" cy="176.3" r="1.8" fill="#1f77b4"/>
<circle cx="209.0" cy="183.6" r="1.8" fill="#1f77b4"/>
<circle cx="203.0" cy="193.8" r="1.8" fill="#1f77b4"/>
<circle cx="206.3" cy="163.5" r="1.8" fill="#ff7f0e"/>
<circle cx="204.7" cy="162.5" r="1.8" fill="#ff7f0e"/>
<circle cx="217.0" cy="163.5" r="1.8" fill="#ff7f0e"/>
<circle cx="198.3" cy="166.7" r="1.8" fill="#ff7f0e"/>
<circle cx="211.1" cy="172.6" r="1.8" fill="#ff7f0e"/>
<circle cx="201.9" cy="139.8" r="1.8" fill="#2ca02c"/>
<circle cx="205.8" cy="143.5" r="1.8" fill="#2ca02c"/>
<circle cx="206.3" cy="145.1" r="1.8" fill="#2ca02c"/>
<circle cx="208.0" cy="157.9" r="1.8" fill="#2ca02c"/>
<circle cx="212.2" cy="162.5" r="1.8" fill="#2ca02c"/>
<circle cx="214.9" cy="163.5" r="1.8" fill="#2ca02c"/>
<circle cx="207.9" cy="167.8" r="1.8" fill="#2ca02c"/>
<circle cx="214.3" cy="172.6" r="1.8" fill="#2ca02c"/>
<circle cx="214.9" cy="174.7" r="1.8" fill="#2ca02c"/>
<circle cx="204.7" cy="176.3" r="1.8" fill="#2ca02c"/>
<circle cx="211.2" cy="186.5" r="1.8" fill="#2ca02c"/>
<circle cx="205.3" cy="189.3" r="1.8" fill="#2ca02c"/>
<circle cx="197.8" cy="145.7" r="1.8" fill="#d62728"/>
<circle cx="203.7" cy="149.9" r="1.8" fill="#d62728"/>
<circle cx="197.8" cy="155.8" r="1.8" fill="#d62728"/>
<circle cx="204.2" cy="177.9" r="1.8" fill="#d62728"/>
<circle cx="203.1" cy="179.0" r="1.8" fill="#d62728"/>
<circle cx="200.2" cy="182.5" r="1.8" fill="#d62728"/>
<circle cx="198.8" cy="185.9" r="1.8" fill="#d62728"/>
<circle cx="203.0" cy="166.0" r="1.8" fill="#d62728"/>
<circle cx="197.5" cy="152.5" r="1.8" fill="#9467bd"/>
<circle cx="192.3" cy="153.1" r="1.8" fill="#9467bd"/>
<circle cx="194.0" cy="158.5" r="1.8" fill="#9467bd"/>
<circle cx="194.6" cy="159.3" r="1.8" fill="#9467bd"/>
<circle cx="189.8" cy="162.5" r="1.8" fill="#9467bd"/>
<circle cx="189.3" cy="165.7" r="1.8" fill="#9467bd"/>
<circle cx="190.9" cy="165.7" r="1.8" fill="#9467bd"/>
<circle cx="206.9" cy="168.9" r="1.8" fill="#9467bd"/>
<circle cx="186.1" cy="178.3" r="1.8" fill="#9467bd"/>
<circle cx="210.0" cy="156.9" r="1.8" fill="#8c564b"/>
<circle cx="204.7" cy="167.8" r="1.8" fill="#8c564b"/>
<circle cx="199.4" cy="176.3" r="1.8" fill="#8c564b"/>
<circle cx="197.0" cy="161.0" r="1.8" fill="#8c564b"/>
<circle cx="200.0" cy="165.0" r="1.8" fill="#8c564b"/>
<circle cx="201.0" cy="170.0" r="1.8" fill="#8c564b"/>
<circle cx="200.0" cy="151.0" r="1.8" fill="#e377c2"/>
<circle cx="207.4" cy="147.8" r="1.8" fill="#e377c2"/>
<circle cx="215.9" cy="148.7" r="1.8" fill="#e377c2"/>
<circle cx="213.3" cy="155.3" r="1.8" fill="#e377c2"/>
<circle cx="201.0" cy="154.7" r="1.8" fill="#e377c2"/>
<circle cx="221.8" cy="159.0" r="1.8" fill="#e377c2"/>
<circle cx="202.1" cy="160.9" r="1.8" fill="#e377c2"/>
<circle cx="212.5" cy="167.6" r="1.8" fill="#e377c2"/>
<circle cx="192.5" cy="169.9" r="1.8" fill="#e377c2"/>
<circle cx="194.1" cy="172.1" r="1.8" fill="#e377c2"/>
<circle cx="201.0" cy="145.7" r="1.8" fill="#7f7f7f"/>
<circle cx="203.0" cy="148.0" r="1.8" fill="#7f7f7f"/>
<circle cx="210.6" cy="151.2" r="1.8" fill="#7f7f7f"/>
<circle cx="202.6" cy="151.5" r="1.8" fill="#7f7f7f"/>
<circle cx="204.5" cy="158.5" r="1.8" fill="#7f7f7f"/>
<circle cx="198.3" cy="163.0" r="1.8" fill="#7f7f7f"/>
<circle cx="199.9" cy="162.5" r="1.8" fill="#7f7f7f"/>
<circle cx="199.4" cy="171.5" r="1.8" fill="#7f7f7f"/>
<circle cx="202.1" cy="172.6" r="1.8" fill="#7f7f7f"/>
<circle cx="204.7" cy="170.5" r="1.8" fill="#7f7f7f"/>
<circle cx="196.0" cy="165.0" r="1.8" fill="#7f7f7f"/>
<circle cx="206.0" cy="166.0" r="1.8" fill="#7f7f7f"/>
<circle cx="204.2" cy="145.1" r="1.8" fill="#bcbd22"/>
<circle cx="196.2" cy="146.7" r="1.8" fill="#bcbd22"/>
<circle cx="199.0" cy="147.5" r="1.8" fill="#bcbd22"/>
<circle cx="193.0" cy="150.5" r="1.8" fill="#bcbd22"/>
<circle cx="208.5" cy="154.2" r="1.8" fill="#bcbd22"/>
<circle cx="203.5" cy="156.0" r="1.8" fill="#bcbd22"/>
<circle cx="194.6" cy="163.0" r="1.8" fill="#bcbd22"/>
<circle cx="202.6" cy="164.6" r="1.8" fill="#bcbd22"/>
<circle cx="209.5" cy="162.7" r="1.8" fill="#bcbd22"/>
<circle cx="202.1" cy="168.9" r="1.8" fill="#bcbd22"/>
<circle cx="204.7" cy="173.7" r="1.8" fill="#bcbd22"/>
<circle cx="196.7" cy="177.4" r="1.8" fill="#bcbd22"/>
<circle cx="200.2" cy="203.5" r="1.8" fill="#bcbd22"/>
<circle cx="198.7" cy="137.1" r="1.8" fill="#17becf"/>
<circle cx="193.0" cy="143.5" r="1.8" fill="#17becf"/>
<circle cx="195.0" cy="144.5" r="1.8" fill="#17becf"/>
<circle cx="196.7" cy="143.0" r="1.8" fill="#17becf"/>
<circle cx="197.0" cy="148.0" r="1.8" fill="#17becf"/>
<circle cx="201.0" cy="148.5" r="1.8" fill="#17becf"/>
<circle cx="198.0" cy="150.5" r="1.8" fill="#17becf"/>
<circle cx="202.5" cy="150.5" r="1.8" fill="#17becf"/>
<circle cx="200.0" cy="153.0" r="1.8" fill="#17becf"/>
<circle cx="201.0" cy="155.5" r="1.8" fill="#17becf"/>
<circle cx="202.0" cy="158.0" r="1.8" fill="#17becf"/>
<circle cx="199.9" cy="158.2" r="1.8" fill="#17becf"/>
<circle cx="202.6" cy="156.6" r="1.8" fill="#17becf"/>
<circle cx="205.8" cy="159.8" r="1.8" fill="#17becf"/>
<circle cx="195.1" cy="167.3" r="1.8" fill="#17becf"/>
<circle cx="199.9" cy="167.3" r="1.8" fill="#17becf"/>
</g>
<clipPath id="cpf"><rect x="285.00" y="125.10" width="84.40" height="81.80"/></clipPath>
<g clip-path="url(#cpf)">
<circle cx="335.6" cy="152.0" r="1.8" fill="#1f77b4"/>
<circle cx="341.0" cy="166.8" r="1.8" fill="#1f77b4"/>
<circle cx="337.4" cy="173.4" r="1.8" fill="#1f77b4"/>
<circle cx="330.2" cy="176.4" r="1.8" fill="#1f77b4"/>
<circle cx="333.8" cy="181.1" r="1.8" fill="#1f77b4"/>
<circle cx="328.7" cy="189.6" r="1.8" fill="#1f77b4"/>
<circle cx="332.0" cy="159.6" r="1.8" fill="#ff7f0e"/>
<circle cx="330.8" cy="163.8" r="1.8" fill="#ff7f0e"/>
<circle cx="333.2" cy="164.4" r="1.8" fill="#ff7f0e"/>
<circle cx="336.2" cy="163.8" r="1.8" fill="#ff7f0e"/>
<circle cx="341.0" cy="160.2" r="1.8" fill="#ff7f0e"/>
<circle cx="345.8" cy="161.4" r="1.8" fill="#ff7f0e"/>
<circle cx="337.4" cy="168.0" r="1.8" fill="#ff7f0e"/>
<circle cx="341.0" cy="169.2" r="1.8" fill="#ff7f0e"/>
<circle cx="333.2" cy="144.2" r="1.8" fill="#2ca02c"/>
<circle cx="336.8" cy="148.4" r="1.8" fill="#2ca02c"/>
<circle cx="337.4" cy="150.8" r="1.8" fill="#2ca02c"/>
<circle cx="333.8" cy="162.0" r="1.8" fill="#2ca02c"/>
<circle cx="339.2" cy="159.0" r="1.8" fill="#2ca02c"/>
<circle cx="339.8" cy="161.4" r="1.8" fill="#2ca02c"/>
<circle cx="342.2" cy="162.6" r="1.8" fill="#2ca02c"/>
<circle cx="343.4" cy="164.4" r="1.8" fill="#2ca02c"/>
<circle cx="344.6" cy="165.0" r="1.8" fill="#2ca02c"/>
<circle cx="333.2" cy="168.6" r="1.8" fill="#2ca02c"/>
<circle cx="335.0" cy="168.0" r="1.8" fill="#2ca02c"/>
<circle cx="333.2" cy="172.2" r="1.8" fill="#2ca02c"/>
<circle cx="333.8" cy="173.4" r="1.8" fill="#2ca02c"/>
<circle cx="343.4" cy="172.2" r="1.8" fill="#2ca02c"/>
<circle cx="344.0" cy="174.6" r="1.8" fill="#2ca02c"/>
<circle cx="335.0" cy="176.4" r="1.8" fill="#2ca02c"/>
<circle cx="336.3" cy="185.3" r="1.8" fill="#2ca02c"/>
<circle cx="341.2" cy="184.0" r="1.8" fill="#2ca02c"/>
<circle cx="321.8" cy="150.2" r="1.8" fill="#d62728"/>
<circle cx="323.0" cy="170.4" r="1.8" fill="#d62728"/>
<circle cx="324.2" cy="172.2" r="1.8" fill="#d62728"/>
<circle cx="327.8" cy="171.0" r="1.8" fill="#d62728"/>
<circle cx="327.2" cy="177.0" r="1.8" fill="#d62728"/>
<circle cx="324.2" cy="178.8" r="1.8" fill="#d62728"/>
<circle cx="323.9" cy="180.2" r="1.8" fill="#d62728"/>
<circle cx="323.0" cy="183.3" r="1.8" fill="#d62728"/>
<circle cx="312.2" cy="152.6" r="1.8" fill="#9467bd"/>
<circle cx="310.4" cy="158.0" r="1.8" fill="#9467bd"/>
<circle cx="313.4" cy="157.4" r="1.8" fill="#9467bd"/>
<circle cx="315.2" cy="158.6" r="1.8" fill="#9467bd"/>
<circle cx="309.8" cy="162.0" r="1.8" fill="#9467bd"/>
<circle cx="312.2" cy="162.6" r="1.8" fill="#9467bd"/>
<circle cx="314.6" cy="162.0" r="1.8" fill="#9467bd"/>
<circle cx="311.0" cy="163.8" r="1.8" fill="#9467bd"/>
<circle cx="314.0" cy="163.8" r="1.8" fill="#9467bd"/>
<circle cx="320.0" cy="165.0" r="1.8" fill="#9467bd"/>
<circle cx="323.6" cy="165.6" r="1.8" fill="#9467bd"/>
<circle cx="312.8" cy="168.6" r="1.8" fill="#9467bd"/>
<circle cx="307.4" cy="174.6" r="1.8" fill="#9467bd"/>
<circle cx="321.2" cy="159.0" r="1.8" fill="#8c564b"/>
<circle cx="322.4" cy="161.4" r="1.8" fill="#8c564b"/>
<circle cx="324.2" cy="163.8" r="1.8" fill="#8c564b"/>
<circle cx="326.0" cy="166.8" r="1.8" fill="#8c564b"/>
<circle cx="326.6" cy="169.2" r="1.8" fill="#8c564b"/>
<circle cx="321.2" cy="143.6" r="1.8" fill="#e377c2"/>
<circle cx="330.2" cy="142.4" r="1.8" fill="#e377c2"/>
<circle cx="337.4" cy="143.0" r="1.8" fill="#e377c2"/>
<circle cx="325.4" cy="147.8" r="1.8" fill="#e377c2"/>
<circle cx="323.6" cy="149.6" r="1.8" fill="#e377c2"/>
<circle cx="330.2" cy="149.0" r="1.8" fill="#e377c2"/>
<circle cx="342.8" cy="152.0" r="1.8" fill="#e377c2"/>
<circle cx="317.6" cy="159.6" r="1.8" fill="#e377c2"/>
<circle cx="318.8" cy="162.0" r="1.8" fill="#e377c2"/>
<circle cx="334.4" cy="159.0" r="1.8" fill="#e377c2"/>
<circle cx="335.0" cy="160.2" r="1.8" fill="#e377c2"/>
<circle cx="335.0" cy="145.4" r="1.8" fill="#7f7f7f"/>
<circle cx="333.8" cy="149.0" r="1.8" fill="#7f7f7f"/>
<circle cx="322.4" cy="156.0" r="1.8" fill="#7f7f7f"/>
<circle cx="335.0" cy="155.4" r="1.8" fill="#7f7f7f"/>
<circle cx="324.2" cy="161.4" r="1.8" fill="#7f7f7f"/>
<circle cx="329.0" cy="161.4" r="1.8" fill="#7f7f7f"/>
<circle cx="330.8" cy="161.4" r="1.8" fill="#7f7f7f"/>
<circle cx="319.4" cy="140.6" r="1.8" fill="#bcbd22"/>
<circle cx="327.2" cy="140.0" r="1.8" fill="#bcbd22"/>
<circle cx="317.6" cy="144.2" r="1.8" fill="#bcbd22"/>
<circle cx="326.0" cy="150.2" r="1.8" fill="#bcbd22"/>
<circle cx="332.0" cy="153.8" r="1.8" fill="#bcbd22"/>
<circle cx="326.6" cy="151.2" r="1.8" fill="#bcbd22"/>
<circle cx="319.4" cy="155.4" r="1.8" fill="#bcbd22"/>
<circle cx="326.0" cy="156.0" r="1.8" fill="#bcbd22"/>
<circle cx="332.0" cy="154.8" r="1.8" fill="#bcbd22"/>
<circle cx="326.0" cy="160.2" r="1.8" fill="#bcbd22"/>
<circle cx="328.4" cy="163.8" r="1.8" fill="#bcbd22"/>
<circle cx="321.2" cy="167.4" r="1.8" fill="#bcbd22"/>
<circle cx="324.2" cy="188.7" r="1.8" fill="#bcbd22"/>
<circle cx="323.0" cy="127.6" r="1.8" fill="#17becf"/>
<circle cx="318.2" cy="134.0" r="1.8" fill="#17becf"/>
<circle cx="320.0" cy="133.2" r="1.8" fill="#17becf"/>
<circle cx="322.5" cy="138.0" r="1.8" fill="#17becf"/>
<circle cx="324.5" cy="136.5" r="1.8" fill="#17becf"/>
<circle cx="326.5" cy="135.8" r="1.8" fill="#17becf"/>
<circle cx="327.8" cy="135.0" r="1.8" fill="#17becf"/>
<circle cx="322.5" cy="139.0" r="1.8" fill="#17becf"/>
<circle cx="324.8" cy="138.8" r="1.8" fill="#17becf"/>
<circle cx="327.2" cy="137.5" r="1.8" fill="#17becf"/>
<circle cx="320.6" cy="140.0" r="1.8" fill="#17becf"/>
<circle cx="321.8" cy="142.4" r="1.8" fill="#17becf"/>
<circle cx="326.0" cy="141.8" r="1.8" fill="#17becf"/>
<circle cx="327.8" cy="143.0" r="1.8" fill="#17becf"/>
<circle cx="324.2" cy="144.2" r="1.8" fill="#17becf"/>
<circle cx="326.6" cy="144.8" r="1.8" fill="#17becf"/>
<circle cx="329.0" cy="146.6" r="1.8" fill="#17becf"/>
<circle cx="324.2" cy="146.6" r="1.8" fill="#17becf"/>
<circle cx="323.0" cy="145.4" r="1.8" fill="#17becf"/>
<circle cx="319.4" cy="153.2" r="1.8" fill="#17becf"/>
<circle cx="322.4" cy="153.2" r="1.8" fill="#17becf"/>
</g>
<clipPath id="cpg"><rect x="43.60" y="248.20" width="84.70" height="81.70"/></clipPath>
<g clip-path="url(#cpg)">
<circle cx="106.1" cy="268.6" r="1.8" fill="#1f77b4"/>
<circle cx="83.1" cy="270.5" r="1.8" fill="#1f77b4"/>
<circle cx="61.8" cy="272.8" r="1.8" fill="#1f77b4"/>
<circle cx="63.2" cy="275.5" r="1.8" fill="#1f77b4"/>
<circle cx="93.0" cy="271.4" r="1.8" fill="#1f77b4"/>
<circle cx="116.4" cy="270.9" r="1.8" fill="#1f77b4"/>
<circle cx="79.7" cy="277.4" r="1.8" fill="#1f77b4"/>
<circle cx="74.0" cy="282.0" r="1.8" fill="#1f77b4"/>
<circle cx="75.1" cy="285.8" r="1.8" fill="#1f77b4"/>
<circle cx="82.0" cy="296.6" r="1.8" fill="#1f77b4"/>
<circle cx="68.2" cy="297.3" r="1.8" fill="#1f77b4"/>
<circle cx="92.3" cy="300.8" r="1.8" fill="#1f77b4"/>
<circle cx="111.8" cy="303.0" r="1.8" fill="#1f77b4"/>
<circle cx="95.3" cy="308.1" r="1.8" fill="#1f77b4"/>
<circle cx="115.2" cy="315.0" r="1.8" fill="#1f77b4"/>
<circle cx="94.6" cy="325.5" r="1.8" fill="#1f77b4"/>
<circle cx="75.6" cy="272.8" r="1.8" fill="#ff7f0e"/>
<circle cx="70.1" cy="279.0" r="1.8" fill="#ff7f0e"/>
<circle cx="101.5" cy="280.1" r="1.8" fill="#ff7f0e"/>
<circle cx="60.2" cy="282.9" r="1.8" fill="#ff7f0e"/>
<circle cx="103.8" cy="291.1" r="1.8" fill="#ff7f0e"/>
<circle cx="100.3" cy="300.8" r="1.8" fill="#ff7f0e"/>
<circle cx="54.9" cy="304.2" r="1.8" fill="#ff7f0e"/>
<circle cx="107.2" cy="303.5" r="1.8" fill="#ff7f0e"/>
<circle cx="109.5" cy="303.0" r="1.8" fill="#ff7f0e"/>
<circle cx="91.2" cy="314.1" r="1.8" fill="#ff7f0e"/>
<circle cx="111.8" cy="315.7" r="1.8" fill="#ff7f0e"/>
<circle cx="87.0" cy="317.3" r="1.8" fill="#ff7f0e"/>
<circle cx="78.6" cy="269.8" r="1.8" fill="#2ca02c"/>
<circle cx="88.9" cy="268.2" r="1.8" fill="#2ca02c"/>
<circle cx="77.0" cy="273.7" r="1.8" fill="#2ca02c"/>
<circle cx="116.4" cy="274.4" r="1.8" fill="#2ca02c"/>
<circle cx="96.2" cy="278.3" r="1.8" fill="#2ca02c"/>
<circle cx="98.0" cy="291.1" r="1.8" fill="#2ca02c"/>
<circle cx="121.0" cy="296.2" r="1.8" fill="#2ca02c"/>
<circle cx="70.5" cy="300.3" r="1.8" fill="#2ca02c"/>
<circle cx="77.0" cy="302.6" r="1.8" fill="#2ca02c"/>
<circle cx="74.7" cy="324.8" r="1.8" fill="#2ca02c"/>
<circle cx="97.4" cy="259.0" r="1.8" fill="#d62728"/>
<circle cx="71.0" cy="270.9" r="1.8" fill="#d62728"/>
<circle cx="110.0" cy="273.2" r="1.8" fill="#d62728"/>
<circle cx="74.0" cy="279.7" r="1.8" fill="#d62728"/>
<circle cx="88.9" cy="282.4" r="1.8" fill="#d62728"/>
<circle cx="116.4" cy="284.2" r="1.8" fill="#d62728"/>
<circle cx="65.9" cy="285.2" r="1.8" fill="#d62728"/>
<circle cx="86.6" cy="285.2" r="1.8" fill="#d62728"/>
<circle cx="110.0" cy="289.0" r="1.8" fill="#d62728"/>
<circle cx="54.9" cy="295.7" r="1.8" fill="#d62728"/>
<circle cx="63.6" cy="296.2" r="1.8" fill="#d62728"/>
<circle cx="64.8" cy="295.0" r="1.8" fill="#d62728"/>
<circle cx="61.3" cy="299.6" r="1.8" fill="#d62728"/>
<circle cx="103.1" cy="301.2" r="1.8" fill="#d62728"/>
<circle cx="96.9" cy="305.3" r="1.8" fill="#d62728"/>
<circle cx="98.0" cy="306.5" r="1.8" fill="#d62728"/>
<circle cx="62.0" cy="252.1" r="1.8" fill="#9467bd"/>
<circle cx="90.0" cy="254.2" r="1.8" fill="#9467bd"/>
<circle cx="60.2" cy="266.3" r="1.8" fill="#9467bd"/>
<circle cx="62.5" cy="265.2" r="1.8" fill="#9467bd"/>
<circle cx="64.1" cy="264.5" r="1.8" fill="#9467bd"/>
<circle cx="70.1" cy="262.9" r="1.8" fill="#9467bd"/>
<circle cx="107.2" cy="276.0" r="1.8" fill="#9467bd"/>
<circle cx="65.9" cy="279.0" r="1.8" fill="#9467bd"/>
<circle cx="96.9" cy="285.2" r="1.8" fill="#9467bd"/>
<circle cx="85.4" cy="290.4" r="1.8" fill="#9467bd"/>
<circle cx="85.4" cy="298.0" r="1.8" fill="#9467bd"/>
<circle cx="87.7" cy="299.6" r="1.8" fill="#9467bd"/>
<circle cx="92.3" cy="304.9" r="1.8" fill="#9467bd"/>
<circle cx="102.2" cy="308.8" r="1.8" fill="#9467bd"/>
<circle cx="103.1" cy="315.7" r="1.8" fill="#9467bd"/>
<circle cx="63.2" cy="316.3" r="1.8" fill="#9467bd"/>
<circle cx="64.8" cy="319.6" r="1.8" fill="#9467bd"/>
<circle cx="96.9" cy="262.9" r="1.8" fill="#8c564b"/>
<circle cx="99.2" cy="263.6" r="1.8" fill="#8c564b"/>
<circle cx="101.5" cy="264.1" r="1.8" fill="#8c564b"/>
<circle cx="56.8" cy="287.4" r="1.8" fill="#8c564b"/>
<circle cx="62.5" cy="288.8" r="1.8" fill="#8c564b"/>
<circle cx="65.0" cy="289.5" r="1.8" fill="#8c564b"/>
<circle cx="67.5" cy="290.2" r="1.8" fill="#8c564b"/>
<circle cx="70.0" cy="291.0" r="1.8" fill="#8c564b"/>
<circle cx="71.7" cy="291.6" r="1.8" fill="#8c564b"/>
<circle cx="72.8" cy="295.0" r="1.8" fill="#8c564b"/>
<circle cx="75.1" cy="296.6" r="1.8" fill="#8c564b"/>
<circle cx="78.6" cy="297.3" r="1.8" fill="#8c564b"/>
<circle cx="90.0" cy="307.2" r="1.8" fill="#8c564b"/>
<circle cx="93.5" cy="315.7" r="1.8" fill="#8c564b"/>
<circle cx="95.8" cy="317.3" r="1.8" fill="#8c564b"/>
<circle cx="97.6" cy="316.3" r="1.8" fill="#8c564b"/>
<circle cx="82.4" cy="258.8" r="1.8" fill="#e377c2"/>
<circle cx="87.7" cy="261.8" r="1.8" fill="#e377c2"/>
<circle cx="79.2" cy="286.5" r="1.8" fill="#e377c2"/>
<circle cx="79.7" cy="288.8" r="1.8" fill="#e377c2"/>
<circle cx="105.0" cy="290.0" r="1.8" fill="#e377c2"/>
<circle cx="90.0" cy="295.0" r="1.8" fill="#e377c2"/>
<circle cx="92.3" cy="296.2" r="1.8" fill="#e377c2"/>
<circle cx="100.3" cy="295.0" r="1.8" fill="#e377c2"/>
<circle cx="122.1" cy="298.0" r="1.8" fill="#e377c2"/>
<circle cx="49.4" cy="298.5" r="1.8" fill="#e377c2"/>
<circle cx="83.8" cy="303.0" r="1.8" fill="#e377c2"/>
<circle cx="64.8" cy="313.4" r="1.8" fill="#e377c2"/>
<circle cx="83.8" cy="311.1" r="1.8" fill="#e377c2"/>
<circle cx="103.1" cy="259.9" r="1.8" fill="#7f7f7f"/>
<circle cx="81.5" cy="264.5" r="1.8" fill="#7f7f7f"/>
<circle cx="47.1" cy="282.9" r="1.8" fill="#7f7f7f"/>
<circle cx="109.5" cy="284.7" r="1.8" fill="#7f7f7f"/>
<circle cx="111.3" cy="283.6" r="1.8" fill="#7f7f7f"/>
<circle cx="110.0" cy="295.0" r="1.8" fill="#7f7f7f"/>
<circle cx="79.7" cy="303.5" r="1.8" fill="#7f7f7f"/>
<circle cx="63.6" cy="307.2" r="1.8" fill="#7f7f7f"/>
<circle cx="64.8" cy="309.5" r="1.8" fill="#7f7f7f"/>
<circle cx="72.8" cy="308.8" r="1.8" fill="#7f7f7f"/>
<circle cx="74.0" cy="310.4" r="1.8" fill="#7f7f7f"/>
<circle cx="59.1" cy="314.1" r="1.8" fill="#7f7f7f"/>
<circle cx="62.5" cy="312.0" r="1.8" fill="#7f7f7f"/>
<circle cx="85.4" cy="324.8" r="1.8" fill="#7f7f7f"/>
<circle cx="107.7" cy="326.4" r="1.8" fill="#7f7f7f"/>
<circle cx="77.9" cy="264.5" r="1.8" fill="#bcbd22"/>
<circle cx="101.5" cy="275.1" r="1.8" fill="#bcbd22"/>
<circle cx="102.6" cy="274.4" r="1.8" fill="#bcbd22"/>
<circle cx="90.7" cy="279.7" r="1.8" fill="#bcbd22"/>
<circle cx="118.7" cy="281.3" r="1.8" fill="#bcbd22"/>
<circle cx="82.0" cy="284.2" r="1.8" fill="#bcbd22"/>
<circle cx="100.3" cy="284.2" r="1.8" fill="#bcbd22"/>
<circle cx="93.0" cy="287.4" r="1.8" fill="#bcbd22"/>
<circle cx="90.0" cy="288.8" r="1.8" fill="#bcbd22"/>
<circle cx="106.1" cy="288.1" r="1.8" fill="#bcbd22"/>
<circle cx="79.2" cy="292.7" r="1.8" fill="#bcbd22"/>
<circle cx="94.6" cy="295.7" r="1.8" fill="#bcbd22"/>
<circle cx="105.4" cy="295.0" r="1.8" fill="#bcbd22"/>
<circle cx="80.8" cy="317.3" r="1.8" fill="#bcbd22"/>
<circle cx="74.7" cy="256.0" r="1.8" fill="#17becf"/>
<circle cx="75.6" cy="257.6" r="1.8" fill="#17becf"/>
<circle cx="51.0" cy="265.2" r="1.8" fill="#17becf"/>
<circle cx="57.2" cy="267.5" r="1.8" fill="#17becf"/>
<circle cx="86.1" cy="265.9" r="1.8" fill="#17becf"/>
<circle cx="85.4" cy="277.4" r="1.8" fill="#17becf"/>
<circle cx="87.0" cy="278.3" r="1.8" fill="#17becf"/>
<circle cx="63.6" cy="275.5" r="1.8" fill="#17becf"/>
<circle cx="111.8" cy="278.3" r="1.8" fill="#17becf"/>
<circle cx="80.2" cy="282.4" r="1.8" fill="#17becf"/>
<circle cx="70.5" cy="284.7" r="1.8" fill="#17becf"/>
<circle cx="70.1" cy="293.4" r="1.8" fill="#17becf"/>
<circle cx="72.4" cy="298.5" r="1.8" fill="#17becf"/>
<circle cx="95.8" cy="298.5" r="1.8" fill="#17becf"/>
<circle cx="65.5" cy="303.5" r="1.8" fill="#17becf"/>
<circle cx="52.2" cy="307.6" r="1.8" fill="#17becf"/>
<circle cx="95.8" cy="309.5" r="1.8" fill="#17becf"/>
<circle cx="87.7" cy="312.2" r="1.8" fill="#17becf"/>
<circle cx="90.0" cy="310.4" r="1.8" fill="#17becf"/>
<circle cx="107.2" cy="321.9" r="1.8" fill="#17becf"/>
</g>
<clipPath id="cph"><rect x="159.60" y="248.20" width="84.80" height="81.70"/></clipPath>
<g clip-path="url(#cph)">
<circle cx="207.2" cy="289.3" r="1.8" fill="#1f77b4"/>
<circle cx="209.9" cy="288.1" r="1.8" fill="#1f77b4"/>
<circle cx="215.2" cy="292.7" r="1.8" fill="#1f77b4"/>
<circle cx="231.2" cy="290.4" r="1.8" fill="#1f77b4"/>
<circle cx="207.2" cy="306.5" r="1.8" fill="#1f77b4"/>
<circle cx="225.5" cy="304.9" r="1.8" fill="#1f77b4"/>
<circle cx="227.3" cy="312.2" r="1.8" fill="#1f77b4"/>
<circle cx="181.6" cy="280.4" r="1.8" fill="#1f77b4"/>
<circle cx="190.6" cy="287.0" r="1.8" fill="#1f77b4"/>
<circle cx="202.6" cy="287.6" r="1.8" fill="#1f77b4"/>
<circle cx="199.6" cy="294.2" r="1.8" fill="#1f77b4"/>
<circle cx="218.2" cy="288.8" r="1.8" fill="#ff7f0e"/>
<circle cx="220.9" cy="290.4" r="1.8" fill="#ff7f0e"/>
<circle cx="214.0" cy="309.9" r="1.8" fill="#ff7f0e"/>
<circle cx="216.3" cy="312.2" r="1.8" fill="#ff7f0e"/>
<circle cx="225.0" cy="311.8" r="1.8" fill="#ff7f0e"/>
<circle cx="212.9" cy="316.3" r="1.8" fill="#ff7f0e"/>
<circle cx="217.5" cy="316.8" r="1.8" fill="#ff7f0e"/>
<circle cx="219.8" cy="315.7" r="1.8" fill="#ff7f0e"/>
<circle cx="184.6" cy="286.0" r="1.8" fill="#ff7f0e"/>
<circle cx="183.4" cy="287.6" r="1.8" fill="#ff7f0e"/>
<circle cx="191.0" cy="288.4" r="1.8" fill="#ff7f0e"/>
<circle cx="203.8" cy="303.2" r="1.8" fill="#ff7f0e"/>
<circle cx="200.2" cy="307.2" r="1.8" fill="#ff7f0e"/>
<circle cx="214.0" cy="299.6" r="1.8" fill="#2ca02c"/>
<circle cx="190.6" cy="291.8" r="1.8" fill="#2ca02c"/>
<circle cx="187.4" cy="293.6" r="1.8" fill="#2ca02c"/>
<circle cx="184.0" cy="296.0" r="1.8" fill="#2ca02c"/>
<circle cx="182.2" cy="297.2" r="1.8" fill="#2ca02c"/>
<circle cx="179.4" cy="299.6" r="1.8" fill="#2ca02c"/>
<circle cx="195.4" cy="293.2" r="1.8" fill="#2ca02c"/>
<circle cx="201.4" cy="293.2" r="1.8" fill="#2ca02c"/>
<circle cx="191.8" cy="297.2" r="1.8" fill="#2ca02c"/>
<circle cx="173.4" cy="301.4" r="1.8" fill="#2ca02c"/>
<circle cx="199.6" cy="301.4" r="1.8" fill="#2ca02c"/>
<circle cx="201.4" cy="300.2" r="1.8" fill="#2ca02c"/>
<circle cx="195.4" cy="318.2" r="1.8" fill="#2ca02c"/>
<circle cx="197.8" cy="318.8" r="1.8" fill="#2ca02c"/>
<circle cx="192.3" cy="253.0" r="1.8" fill="#d62728"/>
<circle cx="209.0" cy="295.0" r="1.8" fill="#d62728"/>
<circle cx="193.0" cy="280.4" r="1.8" fill="#d62728"/>
<circle cx="173.2" cy="290.4" r="1.8" fill="#d62728"/>
<circle cx="173.2" cy="303.6" r="1.8" fill="#d62728"/>
<circle cx="173.8" cy="306.2" r="1.8" fill="#d62728"/>
<circle cx="192.4" cy="303.8" r="1.8" fill="#d62728"/>
<circle cx="182.8" cy="308.0" r="1.8" fill="#d62728"/>
<circle cx="185.2" cy="307.6" r="1.8" fill="#d62728"/>
<circle cx="187.6" cy="308.9" r="1.8" fill="#d62728"/>
<circle cx="194.8" cy="307.4" r="1.8" fill="#d62728"/>
<circle cx="171.4" cy="312.5" r="1.8" fill="#d62728"/>
<circle cx="175.6" cy="315.8" r="1.8" fill="#d62728"/>
<circle cx="191.4" cy="312.0" r="1.8" fill="#d62728"/>
<circle cx="202.6" cy="313.4" r="1.8" fill="#d62728"/>
<circle cx="170.5" cy="270.5" r="1.8" fill="#9467bd"/>
<circle cx="181.9" cy="268.6" r="1.8" fill="#9467bd"/>
<circle cx="176.2" cy="272.1" r="1.8" fill="#9467bd"/>
<circle cx="197.5" cy="272.1" r="1.8" fill="#9467bd"/>
<circle cx="230.1" cy="275.0" r="1.8" fill="#9467bd"/>
<circle cx="233.5" cy="295.0" r="1.8" fill="#9467bd"/>
<circle cx="232.4" cy="297.3" r="1.8" fill="#9467bd"/>
<circle cx="208.3" cy="298.0" r="1.8" fill="#9467bd"/>
<circle cx="173.8" cy="295.6" r="1.8" fill="#9467bd"/>
<circle cx="182.6" cy="316.8" r="1.8" fill="#9467bd"/>
<circle cx="175.0" cy="275.6" r="1.8" fill="#9467bd"/>
<circle cx="185.8" cy="277.4" r="1.8" fill="#8c564b"/>
<circle cx="188.8" cy="277.6" r="1.8" fill="#8c564b"/>
<circle cx="187.4" cy="282.2" r="1.8" fill="#8c564b"/>
<circle cx="179.8" cy="287.6" r="1.8" fill="#8c564b"/>
<circle cx="180.4" cy="290.0" r="1.8" fill="#8c564b"/>
<circle cx="177.8" cy="293.0" r="1.8" fill="#8c564b"/>
<circle cx="184.6" cy="303.2" r="1.8" fill="#8c564b"/>
<circle cx="187.0" cy="302.4" r="1.8" fill="#8c564b"/>
<circle cx="188.8" cy="301.6" r="1.8" fill="#8c564b"/>
<circle cx="180.4" cy="306.4" r="1.8" fill="#8c564b"/>
<circle cx="189.8" cy="306.4" r="1.8" fill="#8c564b"/>
<circle cx="175.4" cy="314.0" r="1.8" fill="#8c564b"/>
<circle cx="185.8" cy="313.2" r="1.8" fill="#8c564b"/>
<circle cx="188.4" cy="258.3" r="1.8" fill="#e377c2"/>
<circle cx="191.1" cy="257.2" r="1.8" fill="#e377c2"/>
<circle cx="201.4" cy="262.2" r="1.8" fill="#e377c2"/>
<circle cx="188.8" cy="268.2" r="1.8" fill="#e377c2"/>
<circle cx="192.9" cy="269.8" r="1.8" fill="#e377c2"/>
<circle cx="207.2" cy="270.5" r="1.8" fill="#e377c2"/>
<circle cx="206.0" cy="282.0" r="1.8" fill="#e377c2"/>
<circle cx="217.5" cy="296.6" r="1.8" fill="#e377c2"/>
<circle cx="165.0" cy="286.4" r="1.8" fill="#e377c2"/>
<circle cx="167.4" cy="284.6" r="1.8" fill="#e377c2"/>
<circle cx="199.4" cy="283.6" r="1.8" fill="#e377c2"/>
<circle cx="196.6" cy="299.6" r="1.8" fill="#e377c2"/>
<circle cx="199.8" cy="252.1" r="1.8" fill="#7f7f7f"/>
<circle cx="206.7" cy="259.0" r="1.8" fill="#7f7f7f"/>
<circle cx="209.0" cy="260.6" r="1.8" fill="#7f7f7f"/>
<circle cx="186.5" cy="265.9" r="1.8" fill="#7f7f7f"/>
<circle cx="198.0" cy="265.9" r="1.8" fill="#7f7f7f"/>
<circle cx="202.1" cy="269.1" r="1.8" fill="#7f7f7f"/>
<circle cx="186.5" cy="326.0" r="1.8" fill="#7f7f7f"/>
<circle cx="175.6" cy="284.4" r="1.8" fill="#7f7f7f"/>
<circle cx="194.2" cy="275.6" r="1.8" fill="#7f7f7f"/>
<circle cx="198.4" cy="287.6" r="1.8" fill="#7f7f7f"/>
<circle cx="199.6" cy="280.4" r="1.8" fill="#7f7f7f"/>
<circle cx="200.8" cy="278.0" r="1.8" fill="#7f7f7f"/>
<circle cx="191.8" cy="299.0" r="1.8" fill="#7f7f7f"/>
<circle cx="195.2" cy="258.3" r="1.8" fill="#bcbd22"/>
<circle cx="198.4" cy="259.5" r="1.8" fill="#bcbd22"/>
<circle cx="181.9" cy="263.6" r="1.8" fill="#bcbd22"/>
<circle cx="214.0" cy="270.9" r="1.8" fill="#bcbd22"/>
<circle cx="216.5" cy="270.0" r="1.8" fill="#bcbd22"/>
<circle cx="222.1" cy="281.3" r="1.8" fill="#bcbd22"/>
<circle cx="225.5" cy="284.2" r="1.8" fill="#bcbd22"/>
<circle cx="214.5" cy="282.4" r="1.8" fill="#bcbd22"/>
<circle cx="214.0" cy="289.3" r="1.8" fill="#bcbd22"/>
<circle cx="240.4" cy="289.7" r="1.8" fill="#bcbd22"/>
<circle cx="223.7" cy="295.0" r="1.8" fill="#bcbd22"/>
<circle cx="215.2" cy="303.0" r="1.8" fill="#bcbd22"/>
<circle cx="217.5" cy="305.5" r="1.8" fill="#bcbd22"/>
<circle cx="220.9" cy="308.1" r="1.8" fill="#bcbd22"/>
<circle cx="164.6" cy="299.6" r="1.8" fill="#bcbd22"/>
<circle cx="180.3" cy="251.4" r="1.8" fill="#17becf"/>
<circle cx="181.9" cy="253.0" r="1.8" fill="#17becf"/>
<circle cx="176.2" cy="267.5" r="1.8" fill="#17becf"/>
<circle cx="219.1" cy="265.9" r="1.8" fill="#17becf"/>
<circle cx="224.4" cy="269.1" r="1.8" fill="#17becf"/>
<circle cx="229.0" cy="269.8" r="1.8" fill="#17becf"/>
<circle cx="220.5" cy="273.7" r="1.8" fill="#17becf"/>
<circle cx="215.2" cy="275.5" r="1.8" fill="#17becf"/>
<circle cx="226.7" cy="278.3" r="1.8" fill="#17becf"/>
<circle cx="236.5" cy="281.3" r="1.8" fill="#17becf"/>
<circle cx="225.5" cy="288.1" r="1.8" fill="#17becf"/>
<circle cx="234.7" cy="291.6" r="1.8" fill="#17becf"/>
<circle cx="203.7" cy="322.5" r="1.8" fill="#17becf"/>
</g>
<clipPath id="cpi"><rect x="285.00" y="248.20" width="84.40" height="81.70"/></clipPath>
<g clip-path="url(#cpi)">
<circle cx="327.3" cy="254.7" r="1.8" fill="#1f77b4"/>
<circle cx="329.3" cy="254.0" r="1.8" fill="#1f77b4"/>
<circle cx="332.0" cy="252.7" r="1.8" fill="#1f77b4"/>
<circle cx="333.3" cy="254.0" r="1.8" fill="#1f77b4"/>
<circle cx="335.3" cy="254.7" r="1.8" fill="#1f77b4"/>
<circle cx="328.0" cy="257.3" r="1.8" fill="#1f77b4"/>
<circle cx="330.7" cy="258.0" r="1.8" fill="#1f77b4"/>
<circle cx="332.7" cy="258.0" r="1.8" fill="#1f77b4"/>
<circle cx="326.0" cy="261.3" r="1.8" fill="#1f77b4"/>
<circle cx="328.7" cy="260.7" r="1.8" fill="#1f77b4"/>
<circle cx="329.3" cy="264.0" r="1.8" fill="#1f77b4"/>
<circle cx="331.3" cy="263.3" r="1.8" fill="#1f77b4"/>
<circle cx="333.3" cy="264.0" r="1.8" fill="#1f77b4"/>
<circle cx="334.7" cy="262.7" r="1.8" fill="#1f77b4"/>
<circle cx="336.0" cy="265.3" r="1.8" fill="#1f77b4"/>
<circle cx="332.0" cy="261.3" r="1.8" fill="#1f77b4"/>
<circle cx="326.5" cy="271.3" r="1.8" fill="#1f77b4"/>
<circle cx="330.8" cy="271.5" r="1.8" fill="#1f77b4"/>
<circle cx="339.3" cy="250.7" r="1.8" fill="#ff7f0e"/>
<circle cx="341.3" cy="250.0" r="1.8" fill="#ff7f0e"/>
<circle cx="340.0" cy="252.7" r="1.8" fill="#ff7f0e"/>
<circle cx="343.3" cy="252.0" r="1.8" fill="#ff7f0e"/>
<circle cx="346.0" cy="253.3" r="1.8" fill="#ff7f0e"/>
<circle cx="347.3" cy="253.3" r="1.8" fill="#ff7f0e"/>
<circle cx="337.3" cy="256.0" r="1.8" fill="#ff7f0e"/>
<circle cx="340.0" cy="255.3" r="1.8" fill="#ff7f0e"/>
<circle cx="342.0" cy="256.0" r="1.8" fill="#ff7f0e"/>
<circle cx="344.7" cy="256.7" r="1.8" fill="#ff7f0e"/>
<circle cx="336.7" cy="260.0" r="1.8" fill="#ff7f0e"/>
<circle cx="338.7" cy="259.3" r="1.8" fill="#ff7f0e"/>
<circle cx="340.7" cy="258.7" r="1.8" fill="#ff7f0e"/>
<circle cx="344.7" cy="258.0" r="1.8" fill="#ff7f0e"/>
<circle cx="346.7" cy="261.3" r="1.8" fill="#ff7f0e"/>
<circle cx="340.7" cy="263.3" r="1.8" fill="#ff7f0e"/>
<circle cx="344.7" cy="265.3" r="1.8" fill="#ff7f0e"/>
<circle cx="342.7" cy="254.0" r="1.8" fill="#ff7f0e"/>
<circle cx="343.3" cy="272.7" r="1.8" fill="#2ca02c"/>
<circle cx="344.7" cy="274.7" r="1.8" fill="#2ca02c"/>
<circle cx="348.7" cy="270.7" r="1.8" fill="#2ca02c"/>
<circle cx="351.3" cy="271.3" r="1.8" fill="#2ca02c"/>
<circle cx="354.0" cy="269.3" r="1.8" fill="#2ca02c"/>
<circle cx="352.7" cy="272.7" r="1.8" fill="#2ca02c"/>
<circle cx="354.7" cy="273.3" r="1.8" fill="#2ca02c"/>
<circle cx="356.7" cy="272.0" r="1.8" fill="#2ca02c"/>
<circle cx="350.0" cy="274.7" r="1.8" fill="#2ca02c"/>
<circle cx="352.0" cy="276.0" r="1.8" fill="#2ca02c"/>
<circle cx="355.3" cy="275.3" r="1.8" fill="#2ca02c"/>
<circle cx="358.0" cy="274.0" r="1.8" fill="#2ca02c"/>
<circle cx="358.7" cy="276.0" r="1.8" fill="#2ca02c"/>
<circle cx="359.3" cy="272.7" r="1.8" fill="#2ca02c"/>
<circle cx="350.7" cy="273.3" r="1.8" fill="#2ca02c"/>
<circle cx="362.7" cy="272.0" r="1.8" fill="#d62728"/>
<circle cx="346.0" cy="279.7" r="1.8" fill="#d62728"/>
<circle cx="363.3" cy="278.0" r="1.8" fill="#d62728"/>
<circle cx="360.7" cy="279.3" r="1.8" fill="#d62728"/>
<circle cx="358.7" cy="280.0" r="1.8" fill="#d62728"/>
<circle cx="352.0" cy="284.0" r="1.8" fill="#d62728"/>
<circle cx="354.0" cy="283.3" r="1.8" fill="#d62728"/>
<circle cx="356.0" cy="284.0" r="1.8" fill="#d62728"/>
<circle cx="358.7" cy="283.3" r="1.8" fill="#d62728"/>
<circle cx="361.3" cy="283.3" r="1.8" fill="#d62728"/>
<circle cx="362.7" cy="282.0" r="1.8" fill="#d62728"/>
<circle cx="364.7" cy="284.0" r="1.8" fill="#d62728"/>
<circle cx="353.3" cy="286.0" r="1.8" fill="#d62728"/>
<circle cx="356.0" cy="286.0" r="1.8" fill="#d62728"/>
<circle cx="360.0" cy="285.3" r="1.8" fill="#d62728"/>
<circle cx="363.3" cy="286.7" r="1.8" fill="#d62728"/>
<circle cx="360.0" cy="288.0" r="1.8" fill="#d62728"/>
<circle cx="322.7" cy="280.0" r="1.8" fill="#9467bd"/>
<circle cx="326.7" cy="282.0" r="1.8" fill="#9467bd"/>
<circle cx="328.7" cy="280.0" r="1.8" fill="#9467bd"/>
<circle cx="330.0" cy="281.3" r="1.8" fill="#9467bd"/>
<circle cx="320.7" cy="284.0" r="1.8" fill="#9467bd"/>
<circle cx="324.7" cy="283.3" r="1.8" fill="#9467bd"/>
<circle cx="329.3" cy="284.0" r="1.8" fill="#9467bd"/>
<circle cx="322.0" cy="286.7" r="1.8" fill="#9467bd"/>
<circle cx="326.0" cy="286.7" r="1.8" fill="#9467bd"/>
<circle cx="330.7" cy="286.0" r="1.8" fill="#9467bd"/>
<circle cx="338.0" cy="285.3" r="1.8" fill="#9467bd"/>
<circle cx="317.7" cy="278.7" r="1.8" fill="#9467bd"/>
<circle cx="322.3" cy="280.0" r="1.8" fill="#9467bd"/>
<circle cx="325.0" cy="279.3" r="1.8" fill="#9467bd"/>
<circle cx="321.7" cy="286.0" r="1.8" fill="#9467bd"/>
<circle cx="324.3" cy="286.0" r="1.8" fill="#9467bd"/>
<circle cx="319.7" cy="290.0" r="1.8" fill="#9467bd"/>
<circle cx="323.7" cy="287.3" r="1.8" fill="#9467bd"/>
<circle cx="328.7" cy="295.3" r="1.8" fill="#9467bd"/>
<circle cx="324.0" cy="297.3" r="1.8" fill="#9467bd"/>
<circle cx="335.3" cy="296.0" r="1.8" fill="#8c564b"/>
<circle cx="337.3" cy="293.3" r="1.8" fill="#8c564b"/>
<circle cx="336.7" cy="296.7" r="1.8" fill="#8c564b"/>
<circle cx="340.0" cy="294.7" r="1.8" fill="#8c564b"/>
<circle cx="341.3" cy="292.7" r="1.8" fill="#8c564b"/>
<circle cx="342.0" cy="290.7" r="1.8" fill="#8c564b"/>
<circle cx="342.7" cy="295.3" r="1.8" fill="#8c564b"/>
<circle cx="344.7" cy="293.3" r="1.8" fill="#8c564b"/>
<circle cx="346.0" cy="291.3" r="1.8" fill="#8c564b"/>
<circle cx="346.7" cy="289.3" r="1.8" fill="#8c564b"/>
<circle cx="348.0" cy="293.3" r="1.8" fill="#8c564b"/>
<circle cx="348.7" cy="296.7" r="1.8" fill="#8c564b"/>
<circle cx="350.0" cy="294.7" r="1.8" fill="#8c564b"/>
<circle cx="351.3" cy="292.7" r="1.8" fill="#8c564b"/>
<circle cx="352.0" cy="288.7" r="1.8" fill="#8c564b"/>
<circle cx="347.3" cy="297.3" r="1.8" fill="#8c564b"/>
<circle cx="325.0" cy="293.3" r="1.8" fill="#e377c2"/>
<circle cx="324.3" cy="296.0" r="1.8" fill="#e377c2"/>
<circle cx="326.3" cy="294.7" r="1.8" fill="#e377c2"/>
<circle cx="329.0" cy="295.3" r="1.8" fill="#e377c2"/>
<circle cx="328.3" cy="299.3" r="1.8" fill="#e377c2"/>
<circle cx="330.3" cy="300.7" r="1.8" fill="#e377c2"/>
<circle cx="332.3" cy="302.0" r="1.8" fill="#e377c2"/>
<circle cx="326.3" cy="302.0" r="1.8" fill="#e377c2"/>
<circle cx="323.7" cy="304.0" r="1.8" fill="#e377c2"/>
<circle cx="327.7" cy="304.7" r="1.8" fill="#e377c2"/>
<circle cx="331.0" cy="304.0" r="1.8" fill="#e377c2"/>
<circle cx="331.7" cy="306.7" r="1.8" fill="#e377c2"/>
<circle cx="329.7" cy="306.0" r="1.8" fill="#e377c2"/>
<circle cx="333.7" cy="304.7" r="1.8" fill="#e377c2"/>
<circle cx="334.3" cy="308.0" r="1.8" fill="#e377c2"/>
<circle cx="322.3" cy="303.3" r="1.8" fill="#e377c2"/>
<circle cx="339.3" cy="304.7" r="1.8" fill="#e377c2"/>
<circle cx="344.0" cy="305.3" r="1.8" fill="#e377c2"/>
<circle cx="336.0" cy="308.7" r="1.8" fill="#e377c2"/>
<circle cx="309.7" cy="297.3" r="1.8" fill="#7f7f7f"/>
<circle cx="312.3" cy="297.3" r="1.8" fill="#7f7f7f"/>
<circle cx="311.0" cy="299.3" r="1.8" fill="#7f7f7f"/>
<circle cx="309.0" cy="300.7" r="1.8" fill="#7f7f7f"/>
<circle cx="313.0" cy="300.7" r="1.8" fill="#7f7f7f"/>
<circle cx="311.0" cy="302.0" r="1.8" fill="#7f7f7f"/>
<circle cx="314.3" cy="302.7" r="1.8" fill="#7f7f7f"/>
<circle cx="317.0" cy="302.0" r="1.8" fill="#7f7f7f"/>
<circle cx="319.0" cy="303.3" r="1.8" fill="#7f7f7f"/>
<circle cx="321.0" cy="304.7" r="1.8" fill="#7f7f7f"/>
<circle cx="309.7" cy="304.0" r="1.8" fill="#7f7f7f"/>
<circle cx="313.0" cy="304.7" r="1.8" fill="#7f7f7f"/>
<circle cx="308.3" cy="308.0" r="1.8" fill="#7f7f7f"/>
<circle cx="311.7" cy="308.0" r="1.8" fill="#7f7f7f"/>
<circle cx="316.3" cy="307.3" r="1.8" fill="#7f7f7f"/>
<circle cx="319.7" cy="308.0" r="1.8" fill="#7f7f7f"/>
<circle cx="318.3" cy="305.3" r="1.8" fill="#7f7f7f"/>
<circle cx="305.7" cy="267.3" r="1.8" fill="#bcbd22"/>
<circle cx="306.3" cy="269.3" r="1.8" fill="#bcbd22"/>
<circle cx="304.3" cy="271.3" r="1.8" fill="#bcbd22"/>
<circle cx="307.7" cy="271.3" r="1.8" fill="#bcbd22"/>
<circle cx="310.3" cy="271.3" r="1.8" fill="#bcbd22"/>
<circle cx="312.3" cy="272.0" r="1.8" fill="#bcbd22"/>
<circle cx="302.3" cy="274.0" r="1.8" fill="#bcbd22"/>
<circle cx="305.0" cy="274.0" r="1.8" fill="#bcbd22"/>
<circle cx="308.3" cy="274.0" r="1.8" fill="#bcbd22"/>
<circle cx="311.0" cy="274.0" r="1.8" fill="#bcbd22"/>
<circle cx="303.7" cy="276.7" r="1.8" fill="#bcbd22"/>
<circle cx="306.3" cy="277.3" r="1.8" fill="#bcbd22"/>
<circle cx="303.0" cy="278.7" r="1.8" fill="#bcbd22"/>
<circle cx="305.0" cy="279.3" r="1.8" fill="#bcbd22"/>
<circle cx="303.7" cy="282.0" r="1.8" fill="#bcbd22"/>
<circle cx="306.3" cy="281.3" r="1.8" fill="#bcbd22"/>
<circle cx="296.3" cy="275.3" r="1.8" fill="#bcbd22"/>
<circle cx="297.0" cy="287.3" r="1.8" fill="#bcbd22"/>
<circle cx="289.0" cy="274.0" r="1.8" fill="#17becf"/>
<circle cx="290.3" cy="275.3" r="1.8" fill="#17becf"/>
<circle cx="288.3" cy="278.0" r="1.8" fill="#17becf"/>
<circle cx="291.7" cy="278.7" r="1.8" fill="#17becf"/>
<circle cx="293.0" cy="276.7" r="1.8" fill="#17becf"/>
<circle cx="295.0" cy="277.3" r="1.8" fill="#17becf"/>
<circle cx="289.7" cy="280.7" r="1.8" fill="#17becf"/>
<circle cx="292.3" cy="281.3" r="1.8" fill="#17becf"/>
<circle cx="294.3" cy="280.7" r="1.8" fill="#17becf"/>
<circle cx="297.0" cy="281.3" r="1.8" fill="#17becf"/>
<circle cx="291.0" cy="283.3" r="1.8" fill="#17becf"/>
<circle cx="293.7" cy="284.7" r="1.8" fill="#17becf"/>
<circle cx="295.0" cy="286.7" r="1.8" fill="#17becf"/>
<circle cx="298.3" cy="282.0" r="1.8" fill="#17becf"/>
<circle cx="295.7" cy="279.3" r="1.8" fill="#17becf"/>
<circle cx="312.3" cy="276.0" r="1.8" fill="#17becf"/>
</g>
<clipPath id="cpj"><rect x="43.60" y="368.40" width="84.70" height="81.80"/></clipPath>
<g clip-path="url(#cpj)">
<circle cx="93.2" cy="402.5" r="1.8" fill="#1f77b4"/>
<circle cx="99.6" cy="400.4" r="1.8" fill="#1f77b4"/>
<circle cx="91.7" cy="430.1" r="1.8" fill="#1f77b4"/>
<circle cx="93.2" cy="447.1" r="1.8" fill="#1f77b4"/>
<circle cx="95.4" cy="447.1" r="1.8" fill="#1f77b4"/>
<circle cx="102.4" cy="395.2" r="1.8" fill="#ff7f0e"/>
<circle cx="112.0" cy="400.4" r="1.8" fill="#ff7f0e"/>
<circle cx="81.7" cy="411.0" r="1.8" fill="#ff7f0e"/>
<circle cx="83.2" cy="412.7" r="1.8" fill="#ff7f0e"/>
<circle cx="90.7" cy="413.2" r="1.8" fill="#ff7f0e"/>
<circle cx="80.0" cy="414.1" r="1.8" fill="#ff7f0e"/>
<circle cx="83.2" cy="416.2" r="1.8" fill="#ff7f0e"/>
<circle cx="79.6" cy="430.1" r="1.8" fill="#ff7f0e"/>
<circle cx="73.2" cy="433.9" r="1.8" fill="#ff7f0e"/>
<circle cx="83.8" cy="432.6" r="1.8" fill="#ff7f0e"/>
<circle cx="89.0" cy="395.2" r="1.8" fill="#2ca02c"/>
<circle cx="104.5" cy="414.5" r="1.8" fill="#2ca02c"/>
<circle cx="93.2" cy="425.8" r="1.8" fill="#2ca02c"/>
<circle cx="66.1" cy="429.0" r="1.8" fill="#2ca02c"/>
<circle cx="69.3" cy="427.9" r="1.8" fill="#2ca02c"/>
<circle cx="93.9" cy="431.8" r="1.8" fill="#2ca02c"/>
<circle cx="90.2" cy="402.5" r="1.8" fill="#d62728"/>
<circle cx="113.5" cy="401.8" r="1.8" fill="#d62728"/>
<circle cx="68.3" cy="405.9" r="1.8" fill="#d62728"/>
<circle cx="77.5" cy="406.3" r="1.8" fill="#d62728"/>
<circle cx="119.5" cy="406.3" r="1.8" fill="#d62728"/>
<circle cx="117.3" cy="410.2" r="1.8" fill="#d62728"/>
<circle cx="87.5" cy="411.7" r="1.8" fill="#d62728"/>
<circle cx="90.5" cy="419.0" r="1.8" fill="#d62728"/>
<circle cx="71.0" cy="423.2" r="1.8" fill="#d62728"/>
<circle cx="61.9" cy="424.1" r="1.8" fill="#d62728"/>
<circle cx="61.2" cy="433.9" r="1.8" fill="#d62728"/>
<circle cx="108.8" cy="434.8" r="1.8" fill="#d62728"/>
<circle cx="110.3" cy="436.0" r="1.8" fill="#d62728"/>
<circle cx="109.9" cy="410.6" r="1.8" fill="#9467bd"/>
<circle cx="90.7" cy="410.6" r="1.8" fill="#9467bd"/>
<circle cx="99.2" cy="412.3" r="1.8" fill="#9467bd"/>
<circle cx="55.5" cy="414.9" r="1.8" fill="#9467bd"/>
<circle cx="88.5" cy="422.0" r="1.8" fill="#9467bd"/>
<circle cx="99.2" cy="422.0" r="1.8" fill="#9467bd"/>
<circle cx="102.4" cy="422.6" r="1.8" fill="#9467bd"/>
<circle cx="59.7" cy="421.5" r="1.8" fill="#9467bd"/>
<circle cx="75.3" cy="425.4" r="1.8" fill="#9467bd"/>
<circle cx="73.6" cy="427.5" r="1.8" fill="#9467bd"/>
<circle cx="106.0" cy="423.2" r="1.8" fill="#9467bd"/>
<circle cx="93.2" cy="434.8" r="1.8" fill="#9467bd"/>
<circle cx="97.5" cy="439.0" r="1.8" fill="#9467bd"/>
<circle cx="71.9" cy="406.3" r="1.8" fill="#8c564b"/>
<circle cx="75.7" cy="405.3" r="1.8" fill="#8c564b"/>
<circle cx="113.1" cy="408.9" r="1.8" fill="#8c564b"/>
<circle cx="79.6" cy="408.5" r="1.8" fill="#8c564b"/>
<circle cx="67.6" cy="414.4" r="1.8" fill="#8c564b"/>
<circle cx="89.6" cy="424.7" r="1.8" fill="#8c564b"/>
<circle cx="99.2" cy="427.5" r="1.8" fill="#8c564b"/>
<circle cx="102.4" cy="426.2" r="1.8" fill="#8c564b"/>
<circle cx="87.5" cy="432.2" r="1.8" fill="#8c564b"/>
<circle cx="114.1" cy="433.9" r="1.8" fill="#8c564b"/>
<circle cx="86.0" cy="400.4" r="1.8" fill="#e377c2"/>
<circle cx="65.5" cy="405.3" r="1.8" fill="#e377c2"/>
<circle cx="85.3" cy="406.3" r="1.8" fill="#e377c2"/>
<circle cx="110.9" cy="415.3" r="1.8" fill="#e377c2"/>
<circle cx="85.3" cy="419.4" r="1.8" fill="#e377c2"/>
<circle cx="100.9" cy="420.5" r="1.8" fill="#e377c2"/>
<circle cx="74.7" cy="422.6" r="1.8" fill="#e377c2"/>
<circle cx="77.9" cy="421.1" r="1.8" fill="#e377c2"/>
<circle cx="106.7" cy="430.1" r="1.8" fill="#e377c2"/>
<circle cx="68.3" cy="434.3" r="1.8" fill="#e377c2"/>
<circle cx="78.9" cy="434.3" r="1.8" fill="#e377c2"/>
<circle cx="89.6" cy="434.8" r="1.8" fill="#e377c2"/>
<circle cx="59.1" cy="436.9" r="1.8" fill="#e377c2"/>
<circle cx="77.4" cy="439.0" r="1.8" fill="#e377c2"/>
<circle cx="110.3" cy="438.6" r="1.8" fill="#e377c2"/>
<circle cx="63.4" cy="442.9" r="1.8" fill="#e377c2"/>
<circle cx="81.7" cy="401.0" r="1.8" fill="#7f7f7f"/>
<circle cx="99.2" cy="404.6" r="1.8" fill="#7f7f7f"/>
<circle cx="98.1" cy="406.8" r="1.8" fill="#7f7f7f"/>
<circle cx="107.7" cy="411.7" r="1.8" fill="#7f7f7f"/>
<circle cx="80.0" cy="413.5" r="1.8" fill="#7f7f7f"/>
<circle cx="88.1" cy="418.3" r="1.8" fill="#7f7f7f"/>
<circle cx="103.0" cy="417.3" r="1.8" fill="#7f7f7f"/>
<circle cx="105.6" cy="420.5" r="1.8" fill="#7f7f7f"/>
<circle cx="63.4" cy="422.0" r="1.8" fill="#7f7f7f"/>
<circle cx="58.2" cy="425.4" r="1.8" fill="#7f7f7f"/>
<circle cx="81.1" cy="422.6" r="1.8" fill="#7f7f7f"/>
<circle cx="82.1" cy="424.7" r="1.8" fill="#7f7f7f"/>
<circle cx="113.7" cy="421.5" r="1.8" fill="#7f7f7f"/>
<circle cx="116.3" cy="419.4" r="1.8" fill="#7f7f7f"/>
<circle cx="121.6" cy="419.8" r="1.8" fill="#7f7f7f"/>
<circle cx="108.0" cy="427.0" r="1.8" fill="#7f7f7f"/>
<circle cx="57.0" cy="431.1" r="1.8" fill="#7f7f7f"/>
<circle cx="87.5" cy="393.1" r="1.8" fill="#bcbd22"/>
<circle cx="74.0" cy="397.4" r="1.8" fill="#bcbd22"/>
<circle cx="79.6" cy="400.4" r="1.8" fill="#bcbd22"/>
<circle cx="77.9" cy="401.0" r="1.8" fill="#bcbd22"/>
<circle cx="104.5" cy="405.9" r="1.8" fill="#bcbd22"/>
<circle cx="103.0" cy="410.2" r="1.8" fill="#bcbd22"/>
<circle cx="83.2" cy="410.2" r="1.8" fill="#bcbd22"/>
<circle cx="71.5" cy="413.2" r="1.8" fill="#bcbd22"/>
<circle cx="75.3" cy="415.9" r="1.8" fill="#bcbd22"/>
<circle cx="75.7" cy="416.2" r="1.8" fill="#bcbd22"/>
<circle cx="88.5" cy="416.2" r="1.8" fill="#bcbd22"/>
<circle cx="93.9" cy="416.8" r="1.8" fill="#bcbd22"/>
<circle cx="100.3" cy="415.1" r="1.8" fill="#bcbd22"/>
<circle cx="117.3" cy="422.6" r="1.8" fill="#bcbd22"/>
<circle cx="90.7" cy="432.2" r="1.8" fill="#bcbd22"/>
<circle cx="117.3" cy="433.3" r="1.8" fill="#bcbd22"/>
<circle cx="89.6" cy="439.7" r="1.8" fill="#bcbd22"/>
<circle cx="91.1" cy="441.2" r="1.8" fill="#bcbd22"/>
<circle cx="105.2" cy="439.7" r="1.8" fill="#bcbd22"/>
<circle cx="63.4" cy="444.5" r="1.8" fill="#bcbd22"/>
<circle cx="87.5" cy="446.7" r="1.8" fill="#bcbd22"/>
<circle cx="87.5" cy="395.7" r="1.8" fill="#17becf"/>
<circle cx="105.6" cy="402.5" r="1.8" fill="#17becf"/>
<circle cx="85.3" cy="408.0" r="1.8" fill="#17becf"/>
<circle cx="88.5" cy="407.4" r="1.8" fill="#17becf"/>
<circle cx="96.0" cy="406.3" r="1.8" fill="#17becf"/>
<circle cx="94.9" cy="408.9" r="1.8" fill="#17becf"/>
<circle cx="94.9" cy="412.7" r="1.8" fill="#17becf"/>
<circle cx="69.3" cy="417.7" r="1.8" fill="#17becf"/>
<circle cx="97.1" cy="416.2" r="1.8" fill="#17becf"/>
<circle cx="98.1" cy="419.0" r="1.8" fill="#17becf"/>
<circle cx="93.9" cy="421.5" r="1.8" fill="#17becf"/>
<circle cx="84.3" cy="426.2" r="1.8" fill="#17becf"/>
<circle cx="87.5" cy="427.5" r="1.8" fill="#17becf"/>
<circle cx="114.5" cy="419.0" r="1.8" fill="#17becf"/>
<circle cx="86.4" cy="429.0" r="1.8" fill="#17becf"/>
<circle cx="112.0" cy="427.9" r="1.8" fill="#17becf"/>
<circle cx="124.4" cy="429.6" r="1.8" fill="#17becf"/>
<circle cx="100.3" cy="433.9" r="1.8" fill="#17becf"/>
<circle cx="84.3" cy="436.9" r="1.8" fill="#17becf"/>
<circle cx="73.6" cy="440.3" r="1.8" fill="#17becf"/>
<circle cx="79.6" cy="443.3" r="1.8" fill="#17becf"/>
</g>
<clipPath id="cpk"><rect x="159.60" y="368.40" width="84.80" height="81.80"/></clipPath>
<g clip-path="url(#cpk)">
<circle cx="214.4" cy="383.4" r="1.8" fill="#1f77b4"/>
<circle cx="198.0" cy="385.0" r="1.8" fill="#1f77b4"/>
<circle cx="201.6" cy="386.8" r="1.8" fill="#1f77b4"/>
<circle cx="181.3" cy="393.6" r="1.8" fill="#1f77b4"/>
<circle cx="204.8" cy="394.7" r="1.8" fill="#1f77b4"/>
<circle cx="203.7" cy="398.0" r="1.8" fill="#1f77b4"/>
<circle cx="230.4" cy="404.3" r="1.8" fill="#1f77b4"/>
<circle cx="177.5" cy="408.2" r="1.8" fill="#1f77b4"/>
<circle cx="215.0" cy="409.3" r="1.8" fill="#1f77b4"/>
<circle cx="218.0" cy="408.8" r="1.8" fill="#1f77b4"/>
<circle cx="225.7" cy="410.3" r="1.8" fill="#1f77b4"/>
<circle cx="230.0" cy="406.1" r="1.8" fill="#1f77b4"/>
<circle cx="202.7" cy="413.1" r="1.8" fill="#1f77b4"/>
<circle cx="211.6" cy="414.0" r="1.8" fill="#1f77b4"/>
<circle cx="213.3" cy="419.9" r="1.8" fill="#1f77b4"/>
<circle cx="202.7" cy="430.2" r="1.8" fill="#1f77b4"/>
<circle cx="188.8" cy="434.4" r="1.8" fill="#1f77b4"/>
<circle cx="164.7" cy="387.2" r="1.8" fill="#ff7f0e"/>
<circle cx="187.7" cy="391.9" r="1.8" fill="#ff7f0e"/>
<circle cx="217.6" cy="391.9" r="1.8" fill="#ff7f0e"/>
<circle cx="179.0" cy="396.0" r="1.8" fill="#ff7f0e"/>
<circle cx="210.8" cy="401.1" r="1.8" fill="#ff7f0e"/>
<circle cx="198.4" cy="402.1" r="1.8" fill="#ff7f0e"/>
<circle cx="198.0" cy="411.0" r="1.8" fill="#ff7f0e"/>
<circle cx="206.5" cy="408.8" r="1.8" fill="#ff7f0e"/>
<circle cx="192.0" cy="413.5" r="1.8" fill="#ff7f0e"/>
<circle cx="220.8" cy="416.1" r="1.8" fill="#ff7f0e"/>
<circle cx="204.4" cy="419.5" r="1.8" fill="#ff7f0e"/>
<circle cx="228.7" cy="419.5" r="1.8" fill="#ff7f0e"/>
<circle cx="193.1" cy="423.8" r="1.8" fill="#ff7f0e"/>
<circle cx="209.5" cy="371.2" r="1.8" fill="#2ca02c"/>
<circle cx="192.4" cy="389.8" r="1.8" fill="#2ca02c"/>
<circle cx="187.3" cy="395.3" r="1.8" fill="#2ca02c"/>
<circle cx="180.9" cy="402.1" r="1.8" fill="#2ca02c"/>
<circle cx="205.2" cy="399.6" r="1.8" fill="#2ca02c"/>
<circle cx="208.6" cy="403.5" r="1.8" fill="#2ca02c"/>
<circle cx="220.8" cy="408.2" r="1.8" fill="#2ca02c"/>
<circle cx="181.3" cy="416.1" r="1.8" fill="#2ca02c"/>
<circle cx="168.1" cy="422.5" r="1.8" fill="#2ca02c"/>
<circle cx="194.6" cy="424.6" r="1.8" fill="#2ca02c"/>
<circle cx="202.7" cy="438.1" r="1.8" fill="#2ca02c"/>
<circle cx="179.6" cy="375.5" r="1.8" fill="#d62728"/>
<circle cx="207.4" cy="380.4" r="1.8" fill="#d62728"/>
<circle cx="194.6" cy="391.9" r="1.8" fill="#d62728"/>
<circle cx="184.5" cy="394.7" r="1.8" fill="#d62728"/>
<circle cx="197.3" cy="395.7" r="1.8" fill="#d62728"/>
<circle cx="209.5" cy="394.0" r="1.8" fill="#d62728"/>
<circle cx="185.6" cy="398.9" r="1.8" fill="#d62728"/>
<circle cx="192.0" cy="399.5" r="1.8" fill="#d62728"/>
<circle cx="200.5" cy="397.9" r="1.8" fill="#d62728"/>
<circle cx="189.9" cy="404.7" r="1.8" fill="#d62728"/>
<circle cx="170.2" cy="417.4" r="1.8" fill="#d62728"/>
<circle cx="180.0" cy="412.5" r="1.8" fill="#d62728"/>
<circle cx="198.0" cy="416.7" r="1.8" fill="#d62728"/>
<circle cx="188.2" cy="424.6" r="1.8" fill="#d62728"/>
<circle cx="218.0" cy="434.4" r="1.8" fill="#d62728"/>
<circle cx="194.1" cy="435.3" r="1.8" fill="#d62728"/>
<circle cx="197.3" cy="374.8" r="1.8" fill="#9467bd"/>
<circle cx="208.0" cy="386.5" r="1.8" fill="#9467bd"/>
<circle cx="209.5" cy="388.3" r="1.8" fill="#9467bd"/>
<circle cx="200.1" cy="391.5" r="1.8" fill="#9467bd"/>
<circle cx="202.7" cy="390.4" r="1.8" fill="#9467bd"/>
<circle cx="163.8" cy="400.0" r="1.8" fill="#9467bd"/>
<circle cx="177.0" cy="404.0" r="1.8" fill="#9467bd"/>
<circle cx="203.7" cy="408.2" r="1.8" fill="#9467bd"/>
<circle cx="219.5" cy="410.5" r="1.8" fill="#9467bd"/>
<circle cx="170.2" cy="414.6" r="1.8" fill="#9467bd"/>
<circle cx="185.6" cy="415.7" r="1.8" fill="#9467bd"/>
<circle cx="189.4" cy="414.0" r="1.8" fill="#9467bd"/>
<circle cx="211.2" cy="416.7" r="1.8" fill="#9467bd"/>
<circle cx="179.0" cy="432.0" r="1.8" fill="#9467bd"/>
<circle cx="189.8" cy="438.5" r="1.8" fill="#9467bd"/>
<circle cx="190.3" cy="379.7" r="1.8" fill="#8c564b"/>
<circle cx="200.5" cy="382.9" r="1.8" fill="#8c564b"/>
<circle cx="198.0" cy="393.0" r="1.8" fill="#8c564b"/>
<circle cx="190.0" cy="394.0" r="1.8" fill="#8c564b"/>
<circle cx="173.2" cy="406.0" r="1.8" fill="#8c564b"/>
<circle cx="187.7" cy="419.5" r="1.8" fill="#8c564b"/>
<circle cx="189.9" cy="418.2" r="1.8" fill="#8c564b"/>
<circle cx="176.6" cy="421.0" r="1.8" fill="#8c564b"/>
<circle cx="191.0" cy="373.5" r="1.8" fill="#e377c2"/>
<circle cx="208.6" cy="372.7" r="1.8" fill="#e377c2"/>
<circle cx="178.1" cy="382.9" r="1.8" fill="#e377c2"/>
<circle cx="180.3" cy="384.0" r="1.8" fill="#e377c2"/>
<circle cx="174.5" cy="386.1" r="1.8" fill="#e377c2"/>
<circle cx="168.1" cy="391.9" r="1.8" fill="#e377c2"/>
<circle cx="176.0" cy="394.7" r="1.8" fill="#e377c2"/>
<circle cx="197.3" cy="399.0" r="1.8" fill="#e377c2"/>
<circle cx="216.5" cy="400.4" r="1.8" fill="#e377c2"/>
<circle cx="183.9" cy="406.7" r="1.8" fill="#e377c2"/>
<circle cx="224.0" cy="411.4" r="1.8" fill="#e377c2"/>
<circle cx="233.0" cy="408.2" r="1.8" fill="#e377c2"/>
<circle cx="163.2" cy="412.5" r="1.8" fill="#e377c2"/>
<circle cx="202.2" cy="417.4" r="1.8" fill="#e377c2"/>
<circle cx="190.0" cy="417.0" r="1.8" fill="#e377c2"/>
<circle cx="227.2" cy="424.6" r="1.8" fill="#e377c2"/>
<circle cx="208.6" cy="439.1" r="1.8" fill="#e377c2"/>
<circle cx="188.8" cy="382.9" r="1.8" fill="#7f7f7f"/>
<circle cx="187.0" cy="387.5" r="1.8" fill="#7f7f7f"/>
<circle cx="215.0" cy="395.3" r="1.8" fill="#7f7f7f"/>
<circle cx="225.7" cy="396.2" r="1.8" fill="#7f7f7f"/>
<circle cx="188.8" cy="398.3" r="1.8" fill="#7f7f7f"/>
<circle cx="190.9" cy="400.4" r="1.8" fill="#7f7f7f"/>
<circle cx="202.7" cy="401.1" r="1.8" fill="#7f7f7f"/>
<circle cx="200.5" cy="404.5" r="1.8" fill="#7f7f7f"/>
<circle cx="197.3" cy="406.7" r="1.8" fill="#7f7f7f"/>
<circle cx="184.5" cy="411.0" r="1.8" fill="#7f7f7f"/>
<circle cx="208.0" cy="416.7" r="1.8" fill="#7f7f7f"/>
<circle cx="217.2" cy="418.9" r="1.8" fill="#7f7f7f"/>
<circle cx="220.2" cy="419.5" r="1.8" fill="#7f7f7f"/>
<circle cx="186.7" cy="422.1" r="1.8" fill="#7f7f7f"/>
<circle cx="206.5" cy="430.6" r="1.8" fill="#7f7f7f"/>
<circle cx="217.2" cy="427.4" r="1.8" fill="#7f7f7f"/>
<circle cx="181.3" cy="434.9" r="1.8" fill="#7f7f7f"/>
<circle cx="188.8" cy="440.2" r="1.8" fill="#7f7f7f"/>
<circle cx="192.0" cy="372.3" r="1.8" fill="#bcbd22"/>
<circle cx="215.9" cy="377.6" r="1.8" fill="#bcbd22"/>
<circle cx="215.0" cy="385.1" r="1.8" fill="#bcbd22"/>
<circle cx="189.9" cy="386.8" r="1.8" fill="#bcbd22"/>
<circle cx="185.2" cy="388.9" r="1.8" fill="#bcbd22"/>
<circle cx="191.6" cy="396.2" r="1.8" fill="#bcbd22"/>
<circle cx="171.7" cy="401.1" r="1.8" fill="#bcbd22"/>
<circle cx="211.6" cy="398.9" r="1.8" fill="#bcbd22"/>
<circle cx="218.7" cy="401.7" r="1.8" fill="#bcbd22"/>
<circle cx="224.0" cy="400.0" r="1.8" fill="#bcbd22"/>
<circle cx="194.1" cy="409.7" r="1.8" fill="#bcbd22"/>
<circle cx="200.5" cy="407.6" r="1.8" fill="#bcbd22"/>
<circle cx="177.5" cy="411.8" r="1.8" fill="#bcbd22"/>
<circle cx="179.6" cy="413.5" r="1.8" fill="#bcbd22"/>
<circle cx="203.7" cy="424.6" r="1.8" fill="#bcbd22"/>
<circle cx="203.7" cy="426.3" r="1.8" fill="#bcbd22"/>
<circle cx="213.3" cy="426.8" r="1.8" fill="#bcbd22"/>
<circle cx="176.6" cy="430.6" r="1.8" fill="#bcbd22"/>
<circle cx="190.9" cy="437.0" r="1.8" fill="#bcbd22"/>
<circle cx="181.3" cy="377.0" r="1.8" fill="#17becf"/>
<circle cx="218.0" cy="381.2" r="1.8" fill="#17becf"/>
<circle cx="196.3" cy="383.4" r="1.8" fill="#17becf"/>
<circle cx="203.7" cy="385.1" r="1.8" fill="#17becf"/>
<circle cx="232.5" cy="388.9" r="1.8" fill="#17becf"/>
<circle cx="186.0" cy="390.5" r="1.8" fill="#17becf"/>
<circle cx="178.1" cy="400.0" r="1.8" fill="#17becf"/>
<circle cx="189.4" cy="408.8" r="1.8" fill="#17becf"/>
<circle cx="210.8" cy="408.2" r="1.8" fill="#17becf"/>
<circle cx="233.6" cy="409.7" r="1.8" fill="#17becf"/>
<circle cx="234.7" cy="411.0" r="1.8" fill="#17becf"/>
<circle cx="166.4" cy="422.5" r="1.8" fill="#17becf"/>
<circle cx="178.1" cy="426.8" r="1.8" fill="#17becf"/>
<circle cx="220.2" cy="428.9" r="1.8" fill="#17becf"/>
<circle cx="180.3" cy="430.6" r="1.8" fill="#17becf"/>
<circle cx="179.6" cy="433.2" r="1.8" fill="#17becf"/>
<circle cx="215.0" cy="434.4" r="1.8" fill="#17becf"/>
</g>
<clipPath id="cpl"><rect x="285.00" y="368.40" width="84.40" height="81.80"/></clipPath>
<g clip-path="url(#cpl)">
<circle cx="318.4" cy="379.1" r="1.8" fill="#1f77b4"/>
<circle cx="326.5" cy="385.0" r="1.8" fill="#1f77b4"/>
<circle cx="343.2" cy="388.3" r="1.8" fill="#1f77b4"/>
<circle cx="345.3" cy="387.6" r="1.8" fill="#1f77b4"/>
<circle cx="307.3" cy="406.0" r="1.8" fill="#1f77b4"/>
<circle cx="306.3" cy="407.6" r="1.8" fill="#1f77b4"/>
<circle cx="307.8" cy="406.1" r="1.8" fill="#1f77b4"/>
<circle cx="335.1" cy="412.5" r="1.8" fill="#1f77b4"/>
<circle cx="306.3" cy="420.4" r="1.8" fill="#1f77b4"/>
<circle cx="330.8" cy="417.8" r="1.8" fill="#1f77b4"/>
<circle cx="311.6" cy="434.4" r="1.8" fill="#1f77b4"/>
<circle cx="290.3" cy="398.9" r="1.8" fill="#ff7f0e"/>
<circle cx="350.0" cy="397.4" r="1.8" fill="#ff7f0e"/>
<circle cx="339.3" cy="404.7" r="1.8" fill="#ff7f0e"/>
<circle cx="344.0" cy="404.7" r="1.8" fill="#ff7f0e"/>
<circle cx="335.0" cy="405.0" r="1.8" fill="#ff7f0e"/>
<circle cx="313.3" cy="411.4" r="1.8" fill="#ff7f0e"/>
<circle cx="317.6" cy="414.6" r="1.8" fill="#ff7f0e"/>
<circle cx="319.7" cy="416.7" r="1.8" fill="#ff7f0e"/>
<circle cx="313.3" cy="415.2" r="1.8" fill="#ff7f0e"/>
<circle cx="347.9" cy="413.1" r="1.8" fill="#ff7f0e"/>
<circle cx="308.4" cy="428.0" r="1.8" fill="#ff7f0e"/>
<circle cx="327.6" cy="444.5" r="1.8" fill="#ff7f0e"/>
<circle cx="326.1" cy="371.8" r="1.8" fill="#2ca02c"/>
<circle cx="315.9" cy="376.1" r="1.8" fill="#2ca02c"/>
<circle cx="321.2" cy="389.8" r="1.8" fill="#2ca02c"/>
<circle cx="323.3" cy="391.9" r="1.8" fill="#2ca02c"/>
<circle cx="325.5" cy="393.2" r="1.8" fill="#2ca02c"/>
<circle cx="337.0" cy="392.0" r="1.8" fill="#2ca02c"/>
<circle cx="294.1" cy="400.0" r="1.8" fill="#2ca02c"/>
<circle cx="317.6" cy="396.8" r="1.8" fill="#2ca02c"/>
<circle cx="303.1" cy="402.1" r="1.8" fill="#2ca02c"/>
<circle cx="312.7" cy="402.1" r="1.8" fill="#2ca02c"/>
<circle cx="296.7" cy="406.4" r="1.8" fill="#2ca02c"/>
<circle cx="297.7" cy="406.1" r="1.8" fill="#2ca02c"/>
<circle cx="299.2" cy="407.1" r="1.8" fill="#2ca02c"/>
<circle cx="324.8" cy="439.6" r="1.8" fill="#2ca02c"/>
<circle cx="329.7" cy="376.5" r="1.8" fill="#d62728"/>
<circle cx="335.1" cy="378.7" r="1.8" fill="#d62728"/>
<circle cx="330.5" cy="385.0" r="1.8" fill="#d62728"/>
<circle cx="343.0" cy="385.0" r="1.8" fill="#d62728"/>
<circle cx="329.7" cy="387.6" r="1.8" fill="#d62728"/>
<circle cx="337.2" cy="387.2" r="1.8" fill="#d62728"/>
<circle cx="306.3" cy="390.4" r="1.8" fill="#d62728"/>
<circle cx="321.2" cy="394.7" r="1.8" fill="#d62728"/>
<circle cx="327.6" cy="395.3" r="1.8" fill="#d62728"/>
<circle cx="299.2" cy="400.4" r="1.8" fill="#d62728"/>
<circle cx="321.2" cy="399.6" r="1.8" fill="#d62728"/>
<circle cx="321.5" cy="401.5" r="1.8" fill="#d62728"/>
<circle cx="322.3" cy="408.8" r="1.8" fill="#d62728"/>
<circle cx="356.0" cy="413.1" r="1.8" fill="#d62728"/>
<circle cx="343.2" cy="421.6" r="1.8" fill="#d62728"/>
<circle cx="295.6" cy="433.8" r="1.8" fill="#d62728"/>
<circle cx="328.7" cy="381.9" r="1.8" fill="#9467bd"/>
<circle cx="323.3" cy="384.6" r="1.8" fill="#9467bd"/>
<circle cx="313.3" cy="386.8" r="1.8" fill="#9467bd"/>
<circle cx="325.5" cy="389.3" r="1.8" fill="#9467bd"/>
<circle cx="318.0" cy="391.5" r="1.8" fill="#9467bd"/>
<circle cx="313.7" cy="394.7" r="1.8" fill="#9467bd"/>
<circle cx="333.4" cy="394.7" r="1.8" fill="#9467bd"/>
<circle cx="332.0" cy="402.0" r="1.8" fill="#9467bd"/>
<circle cx="304.1" cy="418.9" r="1.8" fill="#9467bd"/>
<circle cx="309.5" cy="420.4" r="1.8" fill="#9467bd"/>
<circle cx="337.2" cy="421.6" r="1.8" fill="#9467bd"/>
<circle cx="311.2" cy="383.4" r="1.8" fill="#8c564b"/>
<circle cx="323.3" cy="382.5" r="1.8" fill="#8c564b"/>
<circle cx="292.4" cy="391.9" r="1.8" fill="#8c564b"/>
<circle cx="307.3" cy="393.6" r="1.8" fill="#8c564b"/>
<circle cx="339.3" cy="398.9" r="1.8" fill="#8c564b"/>
<circle cx="343.2" cy="398.3" r="1.8" fill="#8c564b"/>
<circle cx="295.0" cy="410.3" r="1.8" fill="#8c564b"/>
<circle cx="321.2" cy="412.5" r="1.8" fill="#8c564b"/>
<circle cx="325.5" cy="413.1" r="1.8" fill="#8c564b"/>
<circle cx="324.0" cy="416.7" r="1.8" fill="#8c564b"/>
<circle cx="340.4" cy="420.4" r="1.8" fill="#8c564b"/>
<circle cx="329.7" cy="428.5" r="1.8" fill="#8c564b"/>
<circle cx="328.7" cy="431.7" r="1.8" fill="#8c564b"/>
<circle cx="308.4" cy="445.1" r="1.8" fill="#8c564b"/>
<circle cx="304.8" cy="373.3" r="1.8" fill="#e377c2"/>
<circle cx="302.0" cy="388.9" r="1.8" fill="#e377c2"/>
<circle cx="303.5" cy="387.6" r="1.8" fill="#e377c2"/>
<circle cx="331.9" cy="390.4" r="1.8" fill="#e377c2"/>
<circle cx="307.3" cy="411.0" r="1.8" fill="#e377c2"/>
<circle cx="313.7" cy="420.4" r="1.8" fill="#e377c2"/>
<circle cx="348.9" cy="418.9" r="1.8" fill="#e377c2"/>
<circle cx="355.3" cy="420.4" r="1.8" fill="#e377c2"/>
<circle cx="314.2" cy="423.8" r="1.8" fill="#e377c2"/>
<circle cx="322.7" cy="423.1" r="1.8" fill="#e377c2"/>
<circle cx="318.0" cy="427.4" r="1.8" fill="#e377c2"/>
<circle cx="352.6" cy="427.4" r="1.8" fill="#e377c2"/>
<circle cx="332.5" cy="432.7" r="1.8" fill="#e377c2"/>
<circle cx="343.6" cy="434.4" r="1.8" fill="#e377c2"/>
<circle cx="316.9" cy="441.3" r="1.8" fill="#e377c2"/>
<circle cx="339.8" cy="389.3" r="1.8" fill="#7f7f7f"/>
<circle cx="327.6" cy="400.0" r="1.8" fill="#7f7f7f"/>
<circle cx="324.0" cy="402.6" r="1.8" fill="#7f7f7f"/>
<circle cx="326.5" cy="401.7" r="1.8" fill="#7f7f7f"/>
<circle cx="315.0" cy="405.0" r="1.8" fill="#7f7f7f"/>
<circle cx="303.5" cy="410.3" r="1.8" fill="#7f7f7f"/>
<circle cx="315.9" cy="406.1" r="1.8" fill="#7f7f7f"/>
<circle cx="328.0" cy="411.0" r="1.8" fill="#7f7f7f"/>
<circle cx="295.6" cy="416.7" r="1.8" fill="#7f7f7f"/>
<circle cx="300.5" cy="425.3" r="1.8" fill="#7f7f7f"/>
<circle cx="306.9" cy="436.6" r="1.8" fill="#7f7f7f"/>
<circle cx="312.7" cy="372.3" r="1.8" fill="#bcbd22"/>
<circle cx="320.0" cy="381.0" r="1.8" fill="#bcbd22"/>
<circle cx="318.0" cy="387.2" r="1.8" fill="#bcbd22"/>
<circle cx="318.5" cy="389.5" r="1.8" fill="#bcbd22"/>
<circle cx="308.4" cy="397.9" r="1.8" fill="#bcbd22"/>
<circle cx="330.8" cy="399.6" r="1.8" fill="#bcbd22"/>
<circle cx="315.9" cy="403.2" r="1.8" fill="#bcbd22"/>
<circle cx="346.8" cy="404.3" r="1.8" fill="#bcbd22"/>
<circle cx="300.5" cy="413.1" r="1.8" fill="#bcbd22"/>
<circle cx="330.8" cy="413.1" r="1.8" fill="#bcbd22"/>
<circle cx="331.9" cy="414.6" r="1.8" fill="#bcbd22"/>
<circle cx="333.4" cy="425.9" r="1.8" fill="#bcbd22"/>
<circle cx="315.4" cy="433.8" r="1.8" fill="#bcbd22"/>
<circle cx="323.3" cy="433.8" r="1.8" fill="#bcbd22"/>
<circle cx="341.5" cy="431.0" r="1.8" fill="#bcbd22"/>
<circle cx="335.5" cy="437.0" r="1.8" fill="#bcbd22"/>
<circle cx="307.8" cy="443.8" r="1.8" fill="#bcbd22"/>
<circle cx="317.6" cy="372.3" r="1.8" fill="#17becf"/>
<circle cx="316.3" cy="383.4" r="1.8" fill="#17becf"/>
<circle cx="353.8" cy="388.3" r="1.8" fill="#17becf"/>
<circle cx="356.4" cy="389.8" r="1.8" fill="#17becf"/>
<circle cx="328.5" cy="392.0" r="1.8" fill="#17becf"/>
<circle cx="312.7" cy="397.9" r="1.8" fill="#17becf"/>
<circle cx="323.5" cy="397.5" r="1.8" fill="#17becf"/>
<circle cx="336.0" cy="403.5" r="1.8" fill="#17becf"/>
<circle cx="354.0" cy="405.0" r="1.8" fill="#17becf"/>
<circle cx="288.6" cy="409.3" r="1.8" fill="#17becf"/>
<circle cx="339.3" cy="411.4" r="1.8" fill="#17becf"/>
<circle cx="340.4" cy="414.6" r="1.8" fill="#17becf"/>
<circle cx="344.7" cy="413.1" r="1.8" fill="#17becf"/>
<circle cx="346.4" cy="410.3" r="1.8" fill="#17becf"/>
<circle cx="335.1" cy="420.4" r="1.8" fill="#17becf"/>
<circle cx="294.5" cy="424.2" r="1.8" fill="#17becf"/>
<circle cx="323.3" cy="425.3" r="1.8" fill="#17becf"/>
<circle cx="296.2" cy="428.5" r="1.8" fill="#17becf"/>
<circle cx="297.1" cy="434.9" r="1.8" fill="#17becf"/>
<circle cx="308.4" cy="434.4" r="1.8" fill="#17becf"/>
<circle cx="309.9" cy="433.8" r="1.8" fill="#17becf"/>
<circle cx="324.0" cy="432.5" r="1.8" fill="#17becf"/>
<circle cx="345.3" cy="431.7" r="1.8" fill="#17becf"/>
</g>
<rect x="43.60" y="15.50" width="84.70" height="81.90" fill="none" stroke="#000" stroke-width="1.0"/>
<line x1="47.20" y1="97.40" x2="47.20" y2="101.05" stroke="#000" stroke-width="1.0"/>
<text x="47.20" y="113.20" font-size="11.13" text-anchor="middle" textLength="21.99" lengthAdjust="spacingAndGlyphs">−25</text>
<line x1="85.60" y1="97.40" x2="85.60" y2="101.05" stroke="#000" stroke-width="1.0"/>
<text x="85.60" y="113.20" font-size="11.13" text-anchor="middle" textLength="6.63" lengthAdjust="spacingAndGlyphs">0</text>
<line x1="124.00" y1="97.40" x2="124.00" y2="101.05" stroke="#000" stroke-width="1.0"/>
<text x="124.00" y="113.20" font-size="11.13" text-anchor="middle" textLength="13.26" lengthAdjust="spacingAndGlyphs">25</text>
<line x1="39.95" y1="19.60" x2="43.60" y2="19.60" stroke="#000" stroke-width="1.0"/>
<text x="36.30" y="23.40" font-size="11.13" text-anchor="end" textLength="6.63" lengthAdjust="spacingAndGlyphs">1</text>
<line x1="39.95" y1="94.50" x2="43.60" y2="94.50" stroke="#000" stroke-width="1.0"/>
<text x="36.30" y="98.30" font-size="11.13" text-anchor="end" textLength="6.63" lengthAdjust="spacingAndGlyphs">0</text>
<text x="45.50" y="24.60" font-size="11.13" text-anchor="start" textLength="10.45" lengthAdjust="spacingAndGlyphs">a)</text>
<rect x="159.60" y="15.50" width="84.80" height="81.90" fill="none" stroke="#000" stroke-width="1.0"/>
<line x1="166.10" y1="97.40" x2="166.10" y2="101.05" stroke="#000" stroke-width="1.0"/>
<text x="166.10" y="113.20" font-size="11.13" text-anchor="middle" textLength="21.99" lengthAdjust="spacingAndGlyphs">−10</text>
<line x1="201.60" y1="97.40" x2="201.60" y2="101.05" stroke="#000" stroke-width="1.0"/>
<text x="201.60" y="113.20" font-size="11.13" text-anchor="middle" textLength="6.63" lengthAdjust="spacingAndGlyphs">0</text>
<line x1="237.60" y1="97.40" x2="237.60" y2="101.05" stroke="#000" stroke-width="1.0"/>
<text x="237.60" y="113.20" font-size="11.13" text-anchor="middle" textLength="13.26" lengthAdjust="spacingAndGlyphs">10</text>
<line x1="155.95" y1="19.60" x2="159.60" y2="19.60" stroke="#000" stroke-width="1.0"/>
<text x="152.30" y="23.40" font-size="11.13" text-anchor="end" textLength="6.63" lengthAdjust="spacingAndGlyphs">1</text>
<line x1="155.95" y1="94.50" x2="159.60" y2="94.50" stroke="#000" stroke-width="1.0"/>
<text x="152.30" y="98.30" font-size="11.13" text-anchor="end" textLength="6.63" lengthAdjust="spacingAndGlyphs">0</text>
<text x="161.50" y="24.60" font-size="11.13" text-anchor="start" textLength="10.68" lengthAdjust="spacingAndGlyphs">b)</text>
<rect x="285.00" y="15.50" width="84.40" height="81.90" fill="none" stroke="#000" stroke-width="1.0"/>
<line x1="289.40" y1="97.40" x2="289.40" y2="101.05" stroke="#000" stroke-width="1.0"/>
<text x="289.40" y="113.20" font-size="11.13" text-anchor="middle" textLength="15.36" lengthAdjust="spacingAndGlyphs">−5</text>
<line x1="327.10" y1="97.40" x2="327.10" y2="101.05" stroke="#000" stroke-width="1.0"/>
<text x="327.10" y="113.20" font-size="11.13" text-anchor="middle" textLength="6.63" lengthAdjust="spacingAndGlyphs">0</text>
<line x1="364.90" y1="97.40" x2="364.90" y2="101.05" stroke="#000" stroke-width="1.0"/>
<text x="364.90" y="113.20" font-size="11.13" text-anchor="middle" textLength="6.63" lengthAdjust="spacingAndGlyphs">5</text>
<line x1="281.35" y1="36.30" x2="285.00" y2="36.30" stroke="#000" stroke-width="1.0"/>
<text x="277.70" y="40.10" font-size="11.13" text-anchor="end" textLength="6.63" lengthAdjust="spacingAndGlyphs">1</text>
<line x1="281.35" y1="94.50" x2="285.00" y2="94.50" stroke="#000" stroke-width="1.0"/>
<text x="277.70" y="98.30" font-size="11.13" text-anchor="end" textLength="6.63" lengthAdjust="spacingAndGlyphs">0</text>
<text x="286.90" y="24.60" font-size="11.13" text-anchor="start" textLength="9.79" lengthAdjust="spacingAndGlyphs">c)</text>
<rect x="43.60" y="125.10" width="84.70" height="81.80" fill="none" stroke="#000" stroke-width="1.0"/>
<line x1="47.20" y1="206.90" x2="47.20" y2="210.55" stroke="#000" stroke-width="1.0"/>
<text x="47.20" y="222.70" font-size="11.13" text-anchor="middle" textLength="21.99" lengthAdjust="spacingAndGlyphs">−25</text>
<line x1="85.60" y1="206.90" x2="85.60" y2="210.55" stroke="#000" stroke-width="1.0"/>
<text x="85.60" y="222.70" font-size="11.13" text-anchor="middle" textLength="6.63" lengthAdjust="spacingAndGlyphs">0</text>
<line x1="124.00" y1="206.90" x2="124.00" y2="210.55" stroke="#000" stroke-width="1.0"/>
<text x="124.00" y="222.70" font-size="11.13" text-anchor="middle" textLength="13.26" lengthAdjust="spacingAndGlyphs">25</text>
<line x1="39.95" y1="125.40" x2="43.60" y2="125.40" stroke="#000" stroke-width="1.0"/>
<text x="36.30" y="129.20" font-size="11.13" text-anchor="end" textLength="13.26" lengthAdjust="spacingAndGlyphs">20</text>
<line x1="39.95" y1="166.10" x2="43.60" y2="166.10" stroke="#000" stroke-width="1.0"/>
<text x="36.30" y="169.90" font-size="11.13" text-anchor="end" textLength="6.63" lengthAdjust="spacingAndGlyphs">0</text>
<line x1="39.95" y1="206.70" x2="43.60" y2="206.70" stroke="#000" stroke-width="1.0"/>
<text x="36.30" y="210.50" font-size="11.13" text-anchor="end" textLength="21.99" lengthAdjust="spacingAndGlyphs">−20</text>
<text x="45.50" y="134.20" font-size="11.13" text-anchor="start" textLength="10.68" lengthAdjust="spacingAndGlyphs">d)</text>
<rect x="159.60" y="125.10" width="84.80" height="81.80" fill="none" stroke="#000" stroke-width="1.0"/>
<line x1="166.10" y1="206.90" x2="166.10" y2="210.55" stroke="#000" stroke-width="1.0"/>
<text x="166.10" y="222.70" font-size="11.13" text-anchor="middle" textLength="21.99" lengthAdjust="spacingAndGlyphs">−10</text>
<line x1="201.60" y1="206.90" x2="201.60" y2="210.55" stroke="#000" stroke-width="1.0"/>
<text x="201.60" y="222.70" font-size="11.13" text-anchor="middle" textLength="6.63" lengthAdjust="spacingAndGlyphs">0</text>
<line x1="237.60" y1="206.90" x2="237.60" y2="210.55" stroke="#000" stroke-width="1.0"/>
<text x="237.60" y="222.70" font-size="11.13" text-anchor="middle" textLength="13.26" lengthAdjust="spacingAndGlyphs">10</text>
<line x1="155.95" y1="132.90" x2="159.60" y2="132.90" stroke="#000" stroke-width="1.0"/>
<text x="152.30" y="136.70" font-size="11.13" text-anchor="end" textLength="6.63" lengthAdjust="spacingAndGlyphs">6</text>
<line x1="155.95" y1="166.10" x2="159.60" y2="166.10" stroke="#000" stroke-width="1.0"/>
<text x="152.30" y="169.90" font-size="11.13" text-anchor="end" textLength="6.63" lengthAdjust="spacingAndGlyphs">0</text>
<line x1="155.95" y1="199.50" x2="159.60" y2="199.50" stroke="#000" stroke-width="1.0"/>
<text x="152.30" y="203.30" font-size="11.13" text-anchor="end" textLength="15.36" lengthAdjust="spacingAndGlyphs">−6</text>
<text x="161.50" y="134.20" font-size="11.13" text-anchor="start" textLength="10.48" lengthAdjust="spacingAndGlyphs">e)</text>
<rect x="285.00" y="125.10" width="84.40" height="81.80" fill="none" stroke="#000" stroke-width="1.0"/>
<line x1="289.40" y1="206.90" x2="289.40" y2="210.55" stroke="#000" stroke-width="1.0"/>
<text x="289.40" y="222.70" font-size="11.13" text-anchor="middle" textLength="15.36" lengthAdjust="spacingAndGlyphs">−5</text>
<line x1="327.10" y1="206.90" x2="327.10" y2="210.55" stroke="#000" stroke-width="1.0"/>
<text x="327.10" y="222.70" font-size="11.13" text-anchor="middle" textLength="6.63" lengthAdjust="spacingAndGlyphs">0</text>
<line x1="364.90" y1="206.90" x2="364.90" y2="210.55" stroke="#000" stroke-width="1.0"/>
<text x="364.90" y="222.70" font-size="11.13" text-anchor="middle" textLength="6.63" lengthAdjust="spacingAndGlyphs">5</text>
<line x1="281.35" y1="130.50" x2="285.00" y2="130.50" stroke="#000" stroke-width="1.0"/>
<text x="277.70" y="134.30" font-size="11.13" text-anchor="end" textLength="6.63" lengthAdjust="spacingAndGlyphs">3</text>
<line x1="281.35" y1="166.10" x2="285.00" y2="166.10" stroke="#000" stroke-width="1.0"/>
<text x="277.70" y="169.90" font-size="11.13" text-anchor="end" textLength="6.63" lengthAdjust="spacingAndGlyphs">0</text>
<line x1="281.35" y1="201.70" x2="285.00" y2="201.70" stroke="#000" stroke-width="1.0"/>
<text x="277.70" y="205.50" font-size="11.13" text-anchor="end" textLength="15.36" lengthAdjust="spacingAndGlyphs">−3</text>
<text x="286.90" y="134.20" font-size="11.13" text-anchor="start" textLength="7.73" lengthAdjust="spacingAndGlyphs">f)</text>
<rect x="43.60" y="248.20" width="84.70" height="81.70" fill="none" stroke="#000" stroke-width="1.0"/>
<line x1="50.30" y1="329.90" x2="50.30" y2="333.55" stroke="#000" stroke-width="1.0"/>
<text x="50.30" y="345.70" font-size="11.13" text-anchor="middle" textLength="15.36" lengthAdjust="spacingAndGlyphs">−8</text>
<line x1="85.60" y1="329.90" x2="85.60" y2="333.55" stroke="#000" stroke-width="1.0"/>
<text x="85.60" y="345.70" font-size="11.13" text-anchor="middle" textLength="6.63" lengthAdjust="spacingAndGlyphs">0</text>
<line x1="120.80" y1="329.90" x2="120.80" y2="333.55" stroke="#000" stroke-width="1.0"/>
<text x="120.80" y="345.70" font-size="11.13" text-anchor="middle" textLength="6.63" lengthAdjust="spacingAndGlyphs">8</text>
<line x1="39.95" y1="248.60" x2="43.60" y2="248.60" stroke="#000" stroke-width="1.0"/>
<text x="36.30" y="252.40" font-size="11.13" text-anchor="end" textLength="6.63" lengthAdjust="spacingAndGlyphs">8</text>
<line x1="39.95" y1="289.10" x2="43.60" y2="289.10" stroke="#000" stroke-width="1.0"/>
<text x="36.30" y="292.90" font-size="11.13" text-anchor="end" textLength="6.63" lengthAdjust="spacingAndGlyphs">0</text>
<line x1="39.95" y1="329.30" x2="43.60" y2="329.30" stroke="#000" stroke-width="1.0"/>
<text x="36.30" y="333.10" font-size="11.13" text-anchor="end" textLength="15.36" lengthAdjust="spacingAndGlyphs">−8</text>
<text x="45.50" y="257.30" font-size="11.13" text-anchor="start" textLength="10.68" lengthAdjust="spacingAndGlyphs">g)</text>
<rect x="159.60" y="248.20" width="84.80" height="81.70" fill="none" stroke="#000" stroke-width="1.0"/>
<line x1="160.80" y1="329.90" x2="160.80" y2="333.55" stroke="#000" stroke-width="1.0"/>
<text x="160.80" y="345.70" font-size="11.13" text-anchor="middle" textLength="21.99" lengthAdjust="spacingAndGlyphs">−10</text>
<line x1="201.60" y1="329.90" x2="201.60" y2="333.55" stroke="#000" stroke-width="1.0"/>
<text x="201.60" y="345.70" font-size="11.13" text-anchor="middle" textLength="6.63" lengthAdjust="spacingAndGlyphs">0</text>
<line x1="242.90" y1="329.90" x2="242.90" y2="333.55" stroke="#000" stroke-width="1.0"/>
<text x="242.90" y="345.70" font-size="11.13" text-anchor="middle" textLength="13.26" lengthAdjust="spacingAndGlyphs">10</text>
<line x1="155.95" y1="255.90" x2="159.60" y2="255.90" stroke="#000" stroke-width="1.0"/>
<text x="152.30" y="259.70" font-size="11.13" text-anchor="end" textLength="6.63" lengthAdjust="spacingAndGlyphs">8</text>
<line x1="155.95" y1="289.10" x2="159.60" y2="289.10" stroke="#000" stroke-width="1.0"/>
<text x="152.30" y="292.90" font-size="11.13" text-anchor="end" textLength="6.63" lengthAdjust="spacingAndGlyphs">0</text>
<line x1="155.95" y1="322.70" x2="159.60" y2="322.70" stroke="#000" stroke-width="1.0"/>
<text x="152.30" y="326.50" font-size="11.13" text-anchor="end" textLength="15.36" lengthAdjust="spacingAndGlyphs">−8</text>
<text x="161.50" y="257.30" font-size="11.13" text-anchor="start" textLength="10.67" lengthAdjust="spacingAndGlyphs">h)</text>
<rect x="285.00" y="248.20" width="84.40" height="81.70" fill="none" stroke="#000" stroke-width="1.0"/>
<line x1="291.40" y1="329.90" x2="291.40" y2="333.55" stroke="#000" stroke-width="1.0"/>
<text x="291.40" y="345.70" font-size="11.13" text-anchor="middle" textLength="21.99" lengthAdjust="spacingAndGlyphs">−10</text>
<line x1="326.90" y1="329.90" x2="326.90" y2="333.55" stroke="#000" stroke-width="1.0"/>
<text x="326.90" y="345.70" font-size="11.13" text-anchor="middle" textLength="6.63" lengthAdjust="spacingAndGlyphs">0</text>
<line x1="362.60" y1="329.90" x2="362.60" y2="333.55" stroke="#000" stroke-width="1.0"/>
<text x="362.60" y="345.70" font-size="11.13" text-anchor="middle" textLength="13.26" lengthAdjust="spacingAndGlyphs">10</text>
<line x1="281.35" y1="258.10" x2="285.00" y2="258.10" stroke="#000" stroke-width="1.0"/>
<text x="277.70" y="261.90" font-size="11.13" text-anchor="end" textLength="13.26" lengthAdjust="spacingAndGlyphs">10</text>
<line x1="281.35" y1="289.10" x2="285.00" y2="289.10" stroke="#000" stroke-width="1.0"/>
<text x="277.70" y="292.90" font-size="11.13" text-anchor="end" textLength="6.63" lengthAdjust="spacingAndGlyphs">0</text>
<line x1="281.35" y1="320.20" x2="285.00" y2="320.20" stroke="#000" stroke-width="1.0"/>
<text x="277.70" y="324.00" font-size="11.13" text-anchor="end" textLength="21.99" lengthAdjust="spacingAndGlyphs">−10</text>
<text x="286.90" y="257.30" font-size="11.13" text-anchor="start" textLength="6.96" lengthAdjust="spacingAndGlyphs">i)</text>
<rect x="43.60" y="368.40" width="84.70" height="81.80" fill="none" stroke="#000" stroke-width="1.0"/>
<line x1="44.80" y1="450.20" x2="44.80" y2="453.85" stroke="#000" stroke-width="1.0"/>
<text x="44.80" y="466.00" font-size="11.13" text-anchor="middle" textLength="15.36" lengthAdjust="spacingAndGlyphs">−5</text>
<line x1="85.60" y1="450.20" x2="85.60" y2="453.85" stroke="#000" stroke-width="1.0"/>
<text x="85.60" y="466.00" font-size="11.13" text-anchor="middle" textLength="6.63" lengthAdjust="spacingAndGlyphs">0</text>
<line x1="126.30" y1="450.20" x2="126.30" y2="453.85" stroke="#000" stroke-width="1.0"/>
<text x="126.30" y="466.00" font-size="11.13" text-anchor="middle" textLength="6.63" lengthAdjust="spacingAndGlyphs">5</text>
<line x1="39.95" y1="372.20" x2="43.60" y2="372.20" stroke="#000" stroke-width="1.0"/>
<text x="36.30" y="376.00" font-size="11.13" text-anchor="end" textLength="6.63" lengthAdjust="spacingAndGlyphs">6</text>
<line x1="39.95" y1="409.30" x2="43.60" y2="409.30" stroke="#000" stroke-width="1.0"/>
<text x="36.30" y="413.10" font-size="11.13" text-anchor="end" textLength="6.63" lengthAdjust="spacingAndGlyphs">0</text>
<line x1="39.95" y1="446.50" x2="43.60" y2="446.50" stroke="#000" stroke-width="1.0"/>
<text x="36.30" y="450.30" font-size="11.13" text-anchor="end" textLength="15.36" lengthAdjust="spacingAndGlyphs">−6</text>
<text x="45.50" y="377.50" font-size="11.13" text-anchor="start" textLength="6.96" lengthAdjust="spacingAndGlyphs">j)</text>
<rect x="159.60" y="368.40" width="84.80" height="81.80" fill="none" stroke="#000" stroke-width="1.0"/>
<line x1="165.90" y1="450.20" x2="165.90" y2="453.85" stroke="#000" stroke-width="1.0"/>
<text x="165.90" y="466.00" font-size="11.13" text-anchor="middle" textLength="15.36" lengthAdjust="spacingAndGlyphs">−4</text>
<line x1="201.60" y1="450.20" x2="201.60" y2="453.85" stroke="#000" stroke-width="1.0"/>
<text x="201.60" y="466.00" font-size="11.13" text-anchor="middle" textLength="6.63" lengthAdjust="spacingAndGlyphs">0</text>
<line x1="237.60" y1="450.20" x2="237.60" y2="453.85" stroke="#000" stroke-width="1.0"/>
<text x="237.60" y="466.00" font-size="11.13" text-anchor="middle" textLength="6.63" lengthAdjust="spacingAndGlyphs">4</text>
<line x1="155.95" y1="374.20" x2="159.60" y2="374.20" stroke="#000" stroke-width="1.0"/>
<text x="152.30" y="378.00" font-size="11.13" text-anchor="end" textLength="6.63" lengthAdjust="spacingAndGlyphs">4</text>
<line x1="155.95" y1="409.20" x2="159.60" y2="409.20" stroke="#000" stroke-width="1.0"/>
<text x="152.30" y="413.00" font-size="11.13" text-anchor="end" textLength="6.63" lengthAdjust="spacingAndGlyphs">0</text>
<line x1="155.95" y1="444.40" x2="159.60" y2="444.40" stroke="#000" stroke-width="1.0"/>
<text x="152.30" y="448.20" font-size="11.13" text-anchor="end" textLength="15.36" lengthAdjust="spacingAndGlyphs">−4</text>
<text x="161.50" y="377.50" font-size="11.13" text-anchor="start" textLength="10.10" lengthAdjust="spacingAndGlyphs">k)</text>
<rect x="285.00" y="368.40" width="84.40" height="81.80" fill="none" stroke="#000" stroke-width="1.0"/>
<line x1="289.40" y1="450.20" x2="289.40" y2="453.85" stroke="#000" stroke-width="1.0"/>
<text x="289.40" y="466.00" font-size="11.13" text-anchor="middle" textLength="15.36" lengthAdjust="spacingAndGlyphs">−5</text>
<line x1="327.00" y1="450.20" x2="327.00" y2="453.85" stroke="#000" stroke-width="1.0"/>
<text x="327.00" y="466.00" font-size="11.13" text-anchor="middle" textLength="6.63" lengthAdjust="spacingAndGlyphs">0</text>
<line x1="364.90" y1="450.20" x2="364.90" y2="453.85" stroke="#000" stroke-width="1.0"/>
<text x="364.90" y="466.00" font-size="11.13" text-anchor="middle" textLength="6.63" lengthAdjust="spacingAndGlyphs">5</text>
<line x1="281.35" y1="373.90" x2="285.00" y2="373.90" stroke="#000" stroke-width="1.0"/>
<text x="277.70" y="377.70" font-size="11.13" text-anchor="end" textLength="6.63" lengthAdjust="spacingAndGlyphs">5</text>
<line x1="281.35" y1="409.10" x2="285.00" y2="409.10" stroke="#000" stroke-width="1.0"/>
<text x="277.70" y="412.90" font-size="11.13" text-anchor="end" textLength="6.63" lengthAdjust="spacingAndGlyphs">0</text>
<line x1="281.35" y1="444.70" x2="285.00" y2="444.70" stroke="#000" stroke-width="1.0"/>
<text x="277.70" y="448.50" font-size="11.13" text-anchor="end" textLength="15.36" lengthAdjust="spacingAndGlyphs">−5</text>
<text x="286.90" y="377.50" font-size="11.13" text-anchor="start" textLength="6.96" lengthAdjust="spacingAndGlyphs">l)</text>
<text x="85.95" y="9.10" font-size="13.35" text-anchor="middle" textLength="96.91" lengthAdjust="spacingAndGlyphs">usefulness=0.2</text>
<text x="202.00" y="9.10" font-size="13.35" text-anchor="middle" textLength="96.91" lengthAdjust="spacingAndGlyphs">usefulness=0.4</text>
<text x="327.20" y="9.10" font-size="13.35" text-anchor="middle" textLength="96.91" lengthAdjust="spacingAndGlyphs">usefulness=0.6</text>
<text x="8.10" y="56.45" font-size="11.13" text-anchor="middle" textLength="40.69" lengthAdjust="spacingAndGlyphs" transform="rotate(-90 8.10 56.45)">pdf of A</text>
<text x="8.10" y="166.00" font-size="11.13" text-anchor="middle" textLength="48.08" lengthAdjust="spacingAndGlyphs" transform="rotate(-90 8.10 166.00)">feature B</text>
<text x="8.10" y="289.05" font-size="11.13" text-anchor="middle" textLength="68.89" lengthAdjust="spacingAndGlyphs" transform="rotate(-90 8.10 289.05)">component 2</text>
<text x="8.10" y="409.30" font-size="11.13" text-anchor="middle" textLength="68.89" lengthAdjust="spacingAndGlyphs" transform="rotate(-90 8.10 409.30)">component 2</text>
<text x="85.95" y="236.50" font-size="11.13" text-anchor="middle" textLength="48.06" lengthAdjust="spacingAndGlyphs">feature A</text>
<text x="85.95" y="359.50" font-size="11.13" text-anchor="middle" textLength="68.89" lengthAdjust="spacingAndGlyphs">component 1</text>
<text x="85.95" y="479.80" font-size="11.13" text-anchor="middle" textLength="68.89" lengthAdjust="spacingAndGlyphs">component 1</text>
</svg></body></html>
